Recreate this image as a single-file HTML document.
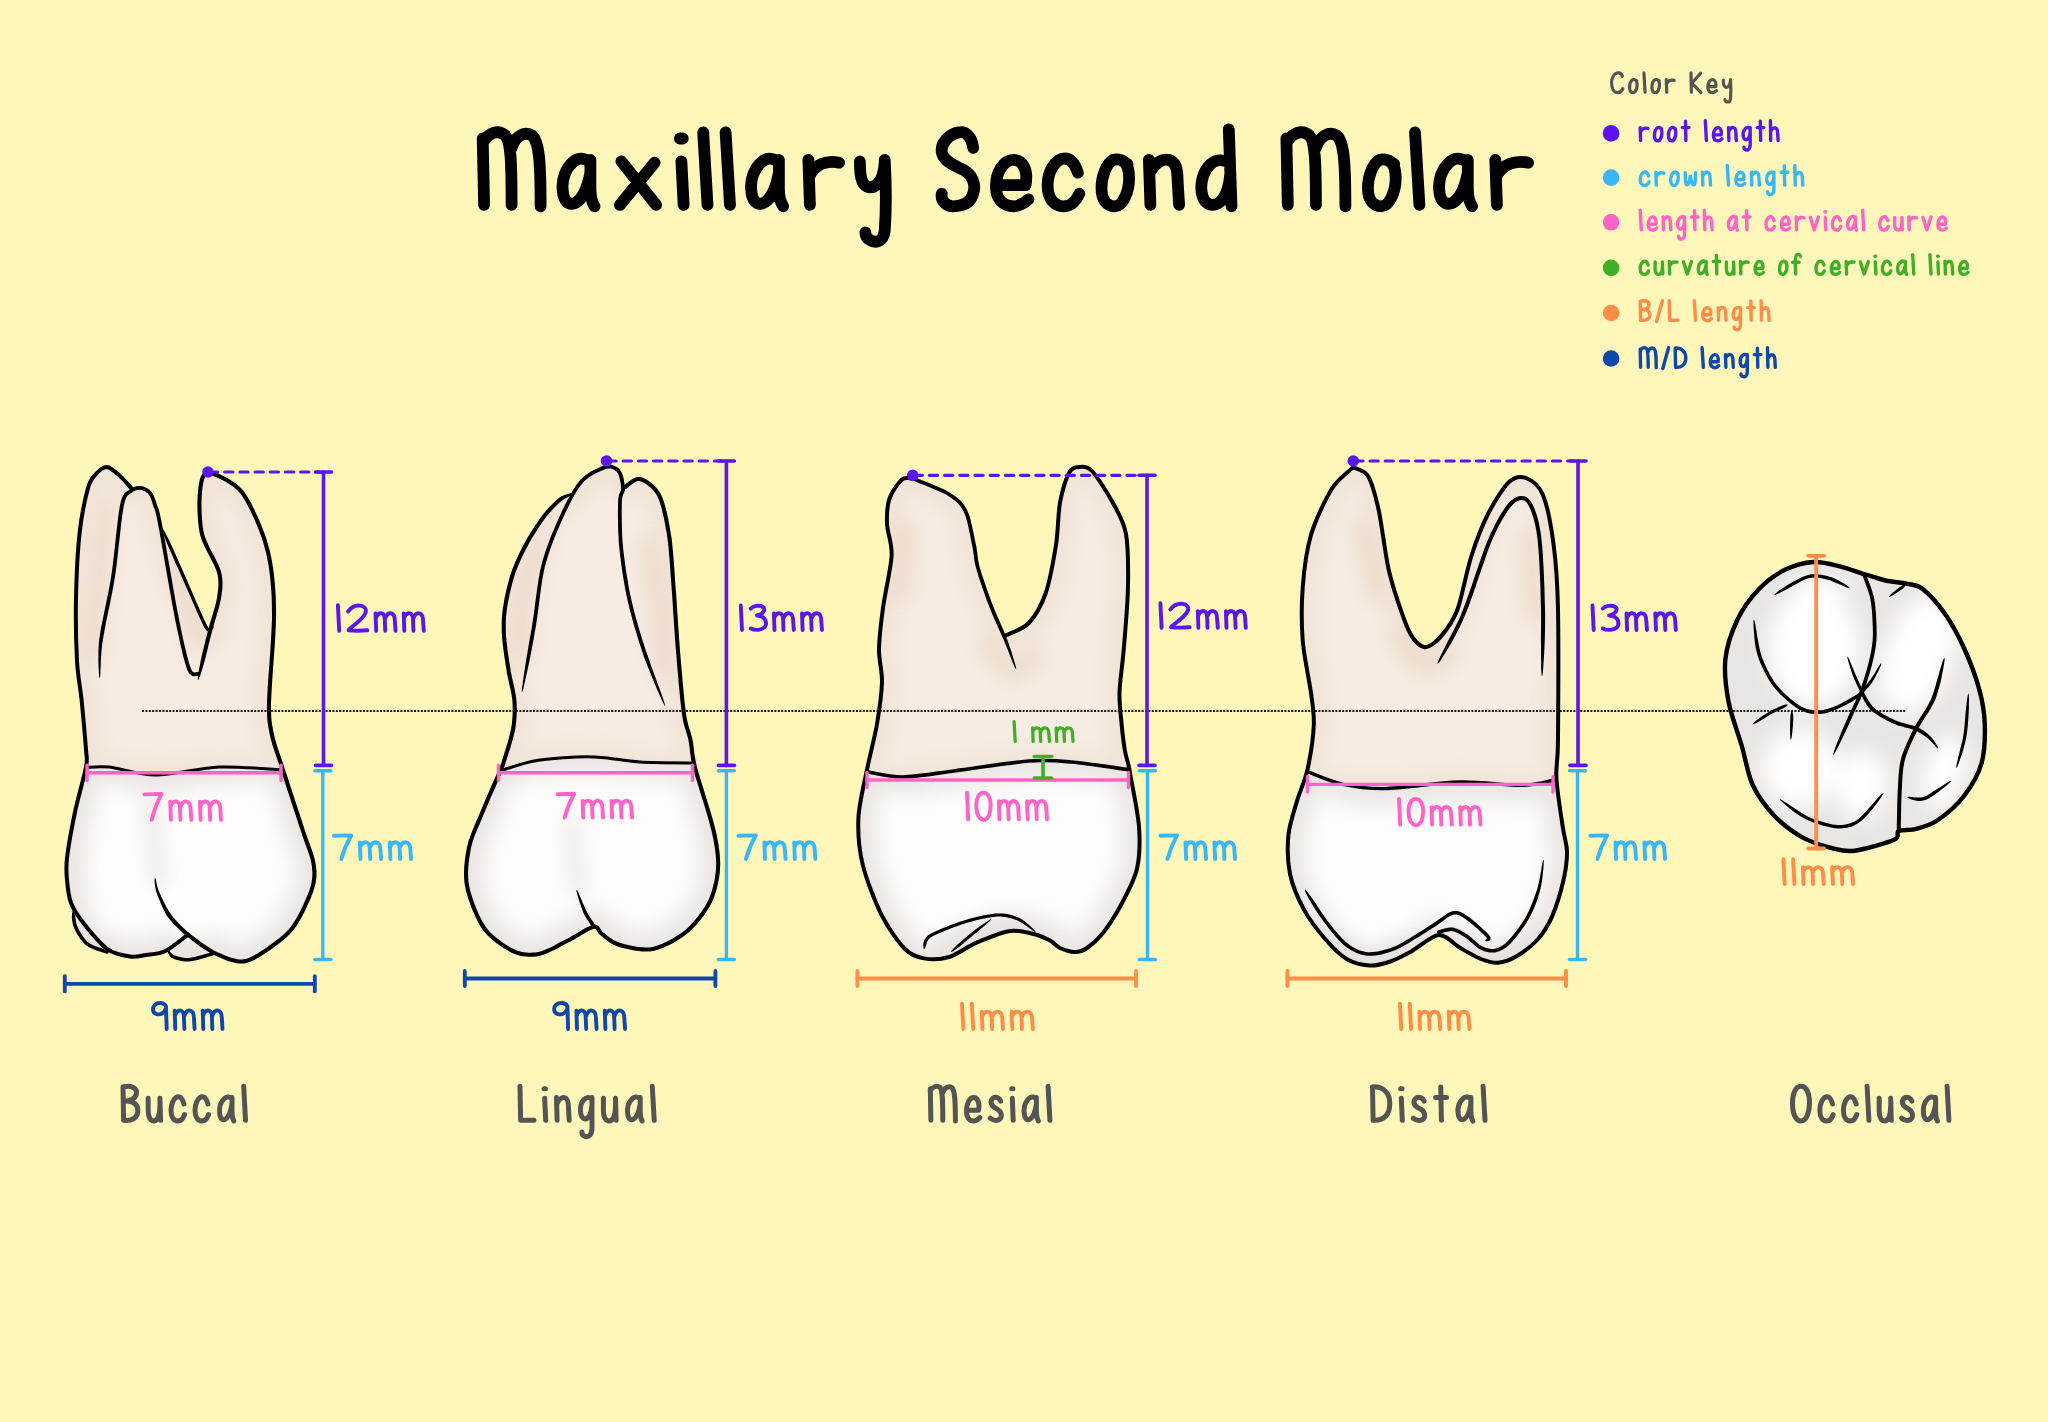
<!DOCTYPE html>
<html><head><meta charset="utf-8"><style>
html,body{margin:0;padding:0;background:#FFF7B9;}
body{width:2048px;height:1422px;overflow:hidden;position:relative;}
svg{position:absolute;left:0;top:0;}
</style></head><body>
<svg width="2048" height="1422" viewBox="0 0 2048 1422">
<defs>
<filter id="blur5" filterUnits="userSpaceOnUse" x="0" y="0" width="2048" height="1422"><feGaussianBlur stdDeviation="5"/></filter>
<filter id="blur6" filterUnits="userSpaceOnUse" x="0" y="0" width="2048" height="1422"><feGaussianBlur stdDeviation="6"/></filter>
<filter id="blur7" filterUnits="userSpaceOnUse" x="0" y="0" width="2048" height="1422"><feGaussianBlur stdDeviation="7"/></filter>
<filter id="blur10" filterUnits="userSpaceOnUse" x="0" y="0" width="2048" height="1422"><feGaussianBlur stdDeviation="10"/></filter>
<filter id="blur8" filterUnits="userSpaceOnUse" x="0" y="0" width="2048" height="1422"><feGaussianBlur stdDeviation="8"/></filter>
<clipPath id="rcB"><path d="M107 467C110.6 467.3 116.2 472.9 120 476C123.8 479.1 128.8 486.4 132 488C135.2 489.6 138.3 486.2 141 487C143.7 487.8 147.9 490.3 150 493C152.1 495.7 153.5 500.4 155 505C156.5 509.6 155.5 512.8 160 524C164.5 535.2 178.1 564.5 185 580C191.9 595.5 201.9 620 206 627C210.1 634 210.1 631.4 212 627C213.9 622.6 217.9 606.2 219 598C220.1 589.8 221.6 581.6 219 572C216.4 562.4 204.8 546 202 534C199.2 522 199.1 501.1 200 492C200.9 482.9 202 473.3 208 473C214 472.7 232.1 481.4 240 490C247.9 498.6 256.4 518.3 261 530C265.6 541.7 269.1 554.6 271 568C272.9 581.4 274.3 598.8 274 619C273.7 639.2 269.3 685.6 269 703C268.7 720.4 270.1 724.6 272 735C273.9 745.4 289.9 766.6 282 772C274.1 777.4 238 770 219 771C200 772 172 779 155.5 779C139 779 119.4 772.2 109 771C98.6 769.8 89.5 774.1 86 771C82.5 767.9 86.7 760.6 86 750C85.3 739.4 82.9 713.4 81.6 700C80.2 686.6 77.8 676.3 77 661C76.2 645.7 75.6 617 76 598C76.4 579 77.7 550.5 79.5 534C81.3 517.5 85.5 497 88 488C90.5 479 93.2 477.1 96 474C98.8 470.9 103.4 466.7 107 467Z"/></clipPath>
<clipPath id="ccB"><path d="M86 767.5C91.1 760.8 98.6 765.9 109 767C119.4 768.1 139 775 155.5 775C172 775 200.3 767.8 219 767C237.7 766.2 267.4 760 280 769.6C292.6 779.2 297.9 816.8 303 831C308.1 845.2 312.4 855.8 313.7 864.6C315 873.5 314.8 880.5 311.6 890C308.4 899.5 299.6 918.6 292.6 927.8C285.6 936.9 272.6 945.9 265 951C257.4 956.1 249.6 961.3 242 961.6C234.4 961.9 219.1 954.1 214.6 953C210.1 951.9 215.8 953 212 954C208.2 955 194.8 959.3 189 959.7C183.2 960.1 176.2 958.1 173 956.6C169.8 955.1 171.9 950.2 167.8 950C163.8 949.8 151.6 954 146 955C140.4 956 136.2 957.1 130.3 956.6C124.5 956.1 113.5 953.9 107 952C100.5 950.1 92 947.8 87.3 944C82.6 940.2 78 933.1 75.6 927C73.2 920.9 72.3 910 71 903C69.7 896 67.6 886.8 67 880C66.4 873.2 65.8 868.2 67 858C68.2 847.8 72.2 825.6 75 812C77.8 798.4 80.9 774.2 86 767.5Z"/></clipPath>
<clipPath id="rcL"><path d="M573.5 493C576.7 490.3 576.1 485.9 581 482C585.9 478.1 600.3 468.6 606 467C611.7 465.4 616.1 468.8 619 471.6C621.9 474.5 621.9 484.9 625 486C628.1 487.1 634.9 477.6 640 479C645.1 480.4 654.6 486.6 659 495C663.4 503.4 666.8 521.1 669 535C671.2 548.9 672.2 570.3 673.6 587.7C675 605.1 676.4 632.1 678 651C679.6 669.9 682.1 700.6 684 714C685.9 727.4 688.9 732 690.5 740C692.1 748 702.3 763.1 694.7 767C687.1 770.9 653.9 766.9 640 766C626.1 765.1 611.5 761.8 602 761C592.5 760.2 586.8 760.4 576.6 761C566.4 761.6 545.4 763 534 765C522.6 767 505.1 774.6 500.6 774C496.1 773.4 502.1 767.8 504 761C505.9 754.2 511.6 737.6 513.2 728.5C514.8 719.4 515.1 709.3 514.4 700.6C513.7 691.9 510.2 680.2 508.6 670.5C507 660.8 504.5 645.1 504 635.7C503.5 626.3 503.6 617.2 505 607.8C506.4 598.4 509.9 582.8 513.2 573C516.5 563.2 522.5 551.2 527 542.8C531.5 534.4 538.5 523.7 543.4 517.3C548.3 510.9 555.1 503.6 559.6 500C564.1 496.4 570.3 495.7 573.5 493Z"/></clipPath>
<clipPath id="ccL"><path d="M500.6 770.7C508.5 762.8 522.6 763.1 534 761C545.4 758.9 566.4 757.5 576.6 757C586.8 756.5 592.5 756.6 602 757.4C611.5 758.1 626.4 761.2 640 762C653.6 762.8 684.4 762.2 692.6 763C700.9 763.8 691.8 757.3 695 767.5C698.2 777.7 710.2 815.8 713.7 831C717.2 846.2 718.6 858.1 718 868.8C717.4 879.5 714.3 893 709.5 902.5C704.7 912 694.5 925 686 932C677.5 939 662.5 947.1 652.5 949C642.5 950.9 626.6 947 619 944.7C611.4 942.5 605.8 936.7 602 934C598.2 931.3 598.6 925.8 593.5 926.8C588.4 927.8 576.2 936.4 568 940.5C559.8 944.6 546.9 952.4 538.6 954C530.4 955.6 521.2 954.9 513 951C504.8 947.1 490.9 937.8 484 928C477.1 918.2 469.2 897.6 467 885.6C464.8 873.6 466.8 858.4 469 847.7C471.2 837 476.9 825.5 481.6 814C486.3 802.5 492.7 778.7 500.6 770.7Z"/></clipPath>
<clipPath id="rcM"><path d="M912.7 478.5C919.7 480.7 940.7 489.1 948.6 494C956.5 498.9 961.7 503.4 965.5 511C969.3 518.6 972.1 536.5 974 545C975.9 553.5 975.5 558.9 978 568C980.5 577.1 986.9 595.6 991 606C995.1 616.4 999.9 634.5 1005.6 637C1011.3 639.5 1022.8 629.5 1028.8 623C1034.8 616.5 1041.5 605.2 1045.6 593.5C1049.7 581.8 1053.8 558.6 1056 545C1058.2 531.4 1058 513.5 1060 502.7C1062 491.9 1066.2 478.4 1069 473C1071.8 467.6 1075.5 467.3 1079 467C1082.5 466.7 1086.9 465.6 1092 471C1097.1 476.4 1107.9 493.6 1113 503C1118.1 512.5 1123.8 521.4 1126 534C1128.2 546.6 1128.3 569.6 1128 587C1127.7 604.4 1125 634.2 1123.7 650C1122.4 665.8 1119.8 681.5 1119.5 692.6C1119.2 703.7 1120.8 715.4 1121.6 724C1122.4 732.6 1123.8 742.8 1124.8 750C1125.8 757.2 1136.5 769.6 1128.5 772C1120.5 774.4 1086.4 767 1071.5 766C1056.6 765 1046.4 763.7 1029 765C1011.6 766.3 974.4 772.3 955.5 774.7C936.6 777.1 916 781 902.7 781C889.4 781 870.9 783.5 867 775C863.1 766.5 874.8 738 877 724C879.2 710 881.7 693.1 882 682C882.3 670.9 878.9 661.1 879 650C879.1 638.9 881.1 622.2 883 608C884.9 593.8 891 568.1 891.6 555.5C892.2 542.9 887.3 532.5 887 524C886.7 515.5 887.2 505.2 889.5 498.5C891.8 491.8 898.5 482.5 902 479.5C905.5 476.5 905.7 476.3 912.7 478.5Z"/></clipPath>
<clipPath id="ccM"><path d="M867 771.7C872.7 771.9 889.4 777.1 902.7 777C916 776.9 936.6 773.1 955.5 770.7C974.4 768.3 1011.6 762.3 1029 761C1046.4 759.7 1056.6 760.7 1071.5 762C1086.4 763.3 1119.6 767.5 1128.5 769.6C1137.4 771.7 1129 767.5 1130.6 776C1132.2 784.5 1138 812.7 1139 826.6C1140 840.5 1139.6 857.2 1137 868.8C1134.4 880.4 1126.6 894.4 1121.5 904C1116.4 913.6 1108.2 926.4 1103 933C1097.8 939.6 1091.2 945.1 1087 948C1082.8 950.9 1079 952 1075 952C1071 952 1063.8 949.7 1060 948C1056.2 946.3 1054 942.6 1050 940.5C1046 938.4 1039.5 935.4 1033.5 934C1027.5 932.6 1018.5 929.7 1010 931C1001.5 932.3 985.8 938.7 976.6 942.6C967.5 946.5 956.9 954.6 949 957C941.1 959.4 930.6 959.6 924 958.4C917.4 957.2 911.4 955.5 905 949C898.6 942.5 887.9 927.7 881.6 915C875.3 902.3 866.2 879.1 862.7 864.6C859.2 850.1 858.1 831.3 858.4 818C858.7 804.7 863.5 782.9 864.8 776C866.1 769.1 861.3 771.6 867 771.7Z"/></clipPath>
<clipPath id="rcD"><path d="M1353 467.4C1358.4 465.5 1364.2 469.7 1368 476C1371.8 482.3 1375.4 495.4 1378.6 509.6C1381.8 523.9 1385.2 554.6 1389 571C1392.8 587.4 1400.4 609 1404 619C1407.6 629 1410 633.8 1413 638C1416 642.2 1420.8 646.2 1424 647C1427.2 647.8 1430.7 645.5 1434 643C1437.3 640.5 1442.4 635.2 1446 630C1449.6 624.8 1454.2 619.1 1458 608C1461.8 596.9 1466.9 570.1 1471.4 556C1475.9 541.9 1482.4 525.1 1488 514C1493.6 502.9 1503.3 487.4 1509 482C1514.7 476.6 1520.9 476.1 1526 478C1531.1 479.9 1538.8 484.9 1543 495C1547.2 505.1 1551.5 528.4 1553.7 545.5C1556 562.6 1557.4 579.8 1558 609C1558.6 638.2 1558.2 714 1558 740C1557.8 766 1561.7 774.6 1556.4 782C1551.1 789.4 1537.2 788.8 1522.6 789.4C1508 790 1479.9 785.5 1459.3 786C1438.7 786.5 1402.9 792.2 1385.5 792.6C1368.1 793 1354.7 790.9 1343 788.4C1331.3 785.9 1311.8 785.2 1307.4 775.7C1303 766.2 1313.3 737.4 1313.8 725C1314.3 712.6 1312.7 705.7 1311 693C1309.3 680.3 1303.9 656.2 1302.7 640.4C1301.5 624.6 1301.5 603.5 1302.7 587.7C1303.9 571.9 1306.6 549.9 1311 535C1315.4 520.1 1325.7 498.6 1332 488.5C1338.3 478.4 1347.6 469.3 1353 467.4Z"/></clipPath>
<clipPath id="ccD"><path d="M1307.4 771.7C1314.3 769.2 1331.3 781.9 1343 784.4C1354.7 786.9 1368.1 789 1385.5 788.6C1402.9 788.2 1438.7 782.5 1459.3 782C1479.9 781.5 1508.4 785.7 1522.6 785.4C1536.8 785.1 1548.9 781.1 1554 780C1559.1 778.9 1555.1 771 1556.4 778C1557.7 785 1561.1 815.5 1562.7 826.6C1564.3 837.7 1566.9 843.8 1567 852C1567.1 860.2 1565.5 871.3 1563.3 881C1561 890.7 1555.8 907.9 1552 916.6C1548.2 925.3 1543.1 933.3 1537.8 939.3C1532.5 945.3 1522.6 952.8 1516.6 956.3C1510.6 959.8 1503.3 962.3 1498 962.7C1492.7 963.1 1486.7 961.2 1481 959C1475.3 956.8 1466.3 951.4 1460 947.8C1453.7 944.2 1446.1 934.4 1438.7 935C1431.3 935.6 1417.9 948 1410.4 952C1402.9 956 1395.2 960 1389 962C1382.8 964 1375.7 966 1369.3 965.5C1362.9 965 1353.2 962.9 1346.6 959C1340 955.1 1331.8 946.7 1325.4 939.3C1319 931.9 1309.3 919.4 1304 909.6C1298.7 899.8 1292.3 885.2 1290 874C1287.7 862.8 1287.4 846 1288.4 835C1289.5 824 1294.2 810.5 1297 801C1299.8 791.5 1300.5 774.2 1307.4 771.7Z"/></clipPath>
<clipPath id="ccO"><path d="M1813.7 562C1821.9 561.5 1832.4 564.5 1839.9 566.3C1847.4 568.1 1856.9 571.9 1863.8 574C1870.7 576.1 1879.1 579 1885.6 580.5C1892.1 582 1901.8 582.5 1907.4 583.8C1913 585.1 1917.2 584.6 1922.7 589C1928.2 593.4 1938.2 604.1 1944.4 613C1950.6 621.9 1958.8 636.5 1964 648C1969.2 659.5 1976.2 678.1 1979.3 689.5C1982.4 700.9 1984.5 713.2 1984.8 724.3C1985.1 735.4 1984.6 752.7 1981.5 763.5C1978.4 774.3 1970.5 787.5 1964 796C1957.5 804.5 1945.2 815 1938 820C1930.8 825 1921.9 827.4 1916 829C1910.1 830.6 1902 829.4 1898.7 831C1895.4 832.6 1900.9 836.8 1894.3 839.8C1887.7 842.8 1864.2 849.4 1855 850.7C1845.8 852 1841.1 850.5 1833.3 848.5C1825.5 846.5 1811.6 842.5 1802.8 837.6C1794 832.7 1782 823.8 1774.5 815.9C1767 808 1757.6 795.5 1752.7 785C1747.8 774.5 1745.4 758.4 1741.8 746C1738.2 733.6 1731.2 715.5 1728.7 702.5C1726.2 689.5 1724.1 671.4 1725.4 659C1726.7 646.6 1732.4 630.2 1737.4 619.7C1742.4 609.2 1751.8 596.5 1759 589C1766.2 581.5 1777.2 573.6 1785.4 569.6C1793.6 565.6 1805.5 562.5 1813.7 562Z"/></clipPath>
</defs>
<rect width="2048" height="1422" fill="#FFF7B9"/>
<path d="M107 467C110.6 467.3 116.2 472.9 120 476C123.8 479.1 128.8 486.4 132 488C135.2 489.6 138.3 486.2 141 487C143.7 487.8 147.9 490.3 150 493C152.1 495.7 153.5 500.4 155 505C156.5 509.6 155.5 512.8 160 524C164.5 535.2 178.1 564.5 185 580C191.9 595.5 201.9 620 206 627C210.1 634 210.1 631.4 212 627C213.9 622.6 217.9 606.2 219 598C220.1 589.8 221.6 581.6 219 572C216.4 562.4 204.8 546 202 534C199.2 522 199.1 501.1 200 492C200.9 482.9 202 473.3 208 473C214 472.7 232.1 481.4 240 490C247.9 498.6 256.4 518.3 261 530C265.6 541.7 269.1 554.6 271 568C272.9 581.4 274.3 598.8 274 619C273.7 639.2 269.3 685.6 269 703C268.7 720.4 270.1 724.6 272 735C273.9 745.4 289.9 766.6 282 772C274.1 777.4 238 770 219 771C200 772 172 779 155.5 779C139 779 119.4 772.2 109 771C98.6 769.8 89.5 774.1 86 771C82.5 767.9 86.7 760.6 86 750C85.3 739.4 82.9 713.4 81.6 700C80.2 686.6 77.8 676.3 77 661C76.2 645.7 75.6 617 76 598C76.4 579 77.7 550.5 79.5 534C81.3 517.5 85.5 497 88 488C90.5 479 93.2 477.1 96 474C98.8 470.9 103.4 466.7 107 467Z" fill="#F6ECE2"/>
<g clip-path="url(#rcB)"><path d="M107 467C110.6 467.3 116.2 472.9 120 476C123.8 479.1 128.8 486.4 132 488C135.2 489.6 138.3 486.2 141 487C143.7 487.8 147.9 490.3 150 493C152.1 495.7 153.5 500.4 155 505C156.5 509.6 155.5 512.8 160 524C164.5 535.2 178.1 564.5 185 580C191.9 595.5 201.9 620 206 627C210.1 634 210.1 631.4 212 627C213.9 622.6 217.9 606.2 219 598C220.1 589.8 221.6 581.6 219 572C216.4 562.4 204.8 546 202 534C199.2 522 199.1 501.1 200 492C200.9 482.9 202 473.3 208 473C214 472.7 232.1 481.4 240 490C247.9 498.6 256.4 518.3 261 530C265.6 541.7 269.1 554.6 271 568C272.9 581.4 274.3 598.8 274 619C273.7 639.2 269.3 685.6 269 703C268.7 720.4 270.1 724.6 272 735C273.9 745.4 289.9 766.6 282 772C274.1 777.4 238 770 219 771C200 772 172 779 155.5 779C139 779 119.4 772.2 109 771C98.6 769.8 89.5 774.1 86 771C82.5 767.9 86.7 760.6 86 750C85.3 739.4 82.9 713.4 81.6 700C80.2 686.6 77.8 676.3 77 661C76.2 645.7 75.6 617 76 598C76.4 579 77.7 550.5 79.5 534C81.3 517.5 85.5 497 88 488C90.5 479 93.2 477.1 96 474C98.8 470.9 103.4 466.7 107 467Z" fill="none" stroke="#EBDACB" stroke-width="30" filter="url(#blur8)" opacity="0.45"/><path d="M108 500C106.8 512 102.4 556 100 580C97.6 604 93.2 648 92 660" fill="none" stroke="#EBDACB" stroke-width="22" filter="url(#blur8)" opacity="0.75"/><path d="M172 560C174.7 567.5 185.5 596.5 190 610C194.5 623.5 200.2 644 202 650" fill="none" stroke="#EBDACB" stroke-width="22" filter="url(#blur8)" opacity="0.75"/></g>
<path d="M86 767.5C91.1 760.8 98.6 765.9 109 767C119.4 768.1 139 775 155.5 775C172 775 200.3 767.8 219 767C237.7 766.2 267.4 760 280 769.6C292.6 779.2 297.9 816.8 303 831C308.1 845.2 312.4 855.8 313.7 864.6C315 873.5 314.8 880.5 311.6 890C308.4 899.5 299.6 918.6 292.6 927.8C285.6 936.9 272.6 945.9 265 951C257.4 956.1 249.6 961.3 242 961.6C234.4 961.9 219.1 954.1 214.6 953C210.1 951.9 215.8 953 212 954C208.2 955 194.8 959.3 189 959.7C183.2 960.1 176.2 958.1 173 956.6C169.8 955.1 171.9 950.2 167.8 950C163.8 949.8 151.6 954 146 955C140.4 956 136.2 957.1 130.3 956.6C124.5 956.1 113.5 953.9 107 952C100.5 950.1 92 947.8 87.3 944C82.6 940.2 78 933.1 75.6 927C73.2 920.9 72.3 910 71 903C69.7 896 67.6 886.8 67 880C66.4 873.2 65.8 868.2 67 858C68.2 847.8 72.2 825.6 75 812C77.8 798.4 80.9 774.2 86 767.5Z" fill="#FEFDFC"/>
<g clip-path="url(#ccB)"><path d="M86 767.5C91.1 760.8 98.6 765.9 109 767C119.4 768.1 139 775 155.5 775C172 775 200.3 767.8 219 767C237.7 766.2 267.4 760 280 769.6C292.6 779.2 297.9 816.8 303 831C308.1 845.2 312.4 855.8 313.7 864.6C315 873.5 314.8 880.5 311.6 890C308.4 899.5 299.6 918.6 292.6 927.8C285.6 936.9 272.6 945.9 265 951C257.4 956.1 249.6 961.3 242 961.6C234.4 961.9 219.1 954.1 214.6 953C210.1 951.9 215.8 953 212 954C208.2 955 194.8 959.3 189 959.7C183.2 960.1 176.2 958.1 173 956.6C169.8 955.1 171.9 950.2 167.8 950C163.8 949.8 151.6 954 146 955C140.4 956 136.2 957.1 130.3 956.6C124.5 956.1 113.5 953.9 107 952C100.5 950.1 92 947.8 87.3 944C82.6 940.2 78 933.1 75.6 927C73.2 920.9 72.3 910 71 903C69.7 896 67.6 886.8 67 880C66.4 873.2 65.8 868.2 67 858C68.2 847.8 72.2 825.6 75 812C77.8 798.4 80.9 774.2 86 767.5Z" fill="none" stroke="#E2DCD8" stroke-width="34" filter="url(#blur10)" opacity="0.72"/><path d="M150 800C150.8 807.5 153.5 837.2 155 850C156.5 862.8 159.2 879.8 160 885" fill="none" stroke="#E2DCD8" stroke-width="16" filter="url(#blur8)" opacity="0.55"/><path d="M172 956C174.7 956.9 184.3 961.9 190 962C195.7 962.1 207 957.8 210 957" fill="none" stroke="#E2DCD8" stroke-width="16" filter="url(#blur8)" opacity="0.55"/><path d="M80 925C82.2 928.5 90.5 943.5 95 948C99.5 952.5 107.8 954 110 955" fill="none" stroke="#E2DCD8" stroke-width="16" filter="url(#blur8)" opacity="0.55"/></g>
<path d="M132 489C130.2 487.1 123.8 479.3 120 476C116.2 472.7 110.6 467.3 107 467C103.4 466.7 98.8 470.9 96 474C93.2 477.1 90.5 479 88 488C85.5 497 81.3 517.5 79.5 534C77.7 550.5 76.4 579 76 598C75.6 617 76.2 645.7 77 661C77.8 676.3 80.2 686.6 81.6 700C82.9 713.4 85.3 740 86 750C86.7 760 87.7 757.7 86 767C84.3 776.3 77.8 798.4 75 812C72.2 825.6 68.2 847.8 67 858C65.8 868.2 66.4 873.2 67 880C67.6 886.8 68.5 896.5 71 903C73.5 909.5 78 916.1 83.4 923C88.8 929.9 100 943.7 107 948.8C114 953.8 124.5 955.7 130.3 956.6C136.2 957.5 140.7 955.8 146 955C151.3 954.2 159.2 954 165.5 951C171.8 948 184.6 937.1 188 934.7" fill="none" stroke="#000" stroke-width="4" stroke-linecap="round" stroke-linejoin="round"/>
<path d="M99.8 678L100.2 676L100.4 673.3L100.5 670.1L100.7 666.5L100.8 662.6L101 658.3L101.3 653.9L101.7 649.3L102.1 644.8L102.8 640.2L103.6 635.4L104.6 629.9L105.7 623.9L107 617.5L108.4 610.8L109.9 603.9L111.3 597L112.6 590.2L113.8 583.6L114.9 577.3L115.8 570.7L116.8 563.2L117.7 555.2L118.6 546.8L119.6 538.5L120.5 530.3L121.3 522.6L122.2 515.7L123.1 509.9L123.9 505.4L124.7 502L125.5 499.5L126.3 497.6L127.1 496.3L127.8 495.4L128.5 494.8L129.3 494.3L130.2 493.8L131.2 493.2L132.2 492.5L133 491.8L133.8 491.3L134.7 490.9L135.6 490.6L136.5 490.3L137.4 490.1L138.3 489.9L139.2 489.8L140.1 489.8L140.8 489.9L141.5 490L142.3 490.2L143.1 490.5L144 490.9L144.9 491.3L145.7 491.8L146.5 492.4L147.3 493L148 493.6L148.5 494.2L149 494.9L149.5 495.7L150 496.7L150.5 497.7L151 498.9L151.4 500.1L151.9 501.4L152.3 502.8L152.7 504.2L153.2 505.6L153.6 506.9L154 507.8L154.4 508.6L154.7 509.4L155 510.4L155.4 511.8L155.9 513.7L156.5 516.3L157.2 519.8L158.1 524.4L159.3 530.6L160.7 538.7L162.4 548.3L164.3 558.9L166.2 570.1L168.2 581.4L170.2 592.5L172 602.7L173.7 611.9L175.1 619.4L176.4 625.8L177.8 632.2L179.1 638.2L180.3 644L181.6 649.5L182.8 654.6L184 659.2L185.1 663.2L186.2 666.8L187.2 669.7L188.3 672L189.6 673.9L191 675.1L192.5 675.9L194 676.2L195.3 676.2L196.4 676L197.2 675.9L197.5 675.8L197.6 675.9L198.4 672.1L197.5 672L196.5 672.1L195.7 672.3L195 672.4L194.3 672.4L193.8 672.3L193.2 672L192.5 671.4L191.6 670.2L190.8 668.3L189.8 665.6L188.8 662.2L187.7 658.2L186.5 653.6L185.3 648.6L184 643.2L182.8 637.4L181.5 631.4L180.2 625.1L178.9 618.6L177.4 611.2L175.7 602.1L173.9 591.8L172 580.8L170 569.4L168 558.2L166.2 547.6L164.5 538L163 529.9L161.9 523.6L161 519.1L160.2 515.5L159.6 512.8L159.1 510.8L158.6 509.3L158.2 508.1L157.9 507.2L157.5 506.4L157.2 505.5L156.8 504.4L156.4 503L155.9 501.6L155.5 500.2L155 498.9L154.5 497.5L154 496.2L153.4 495L152.8 493.9L152.2 492.8L151.5 491.8L150.7 490.9L149.8 490.1L148.8 489.3L147.8 488.6L146.7 488L145.6 487.4L144.5 487L143.4 486.6L142.3 486.3L141.2 486.1L140.2 486L139.1 486.1L137.9 486.1L136.7 486.3L135.5 486.6L134.3 487L133.1 487.4L131.9 488L130.8 488.7L129.8 489.5L129.1 490.1L128.3 490.6L127.3 491.1L126.2 491.8L125.1 492.8L124 494.1L122.9 495.9L121.9 498.2L121 501L120.1 504.6L119.3 509.3L118.4 515.2L117.6 522.2L116.7 529.9L115.8 538L114.9 546.4L113.9 554.7L113 562.7L112.1 570.2L111.1 576.7L110.1 582.9L108.9 589.5L107.5 596.3L106.1 603.2L104.7 610L103.3 616.7L102 623.2L100.8 629.2L99.9 634.8L99.2 639.8L98.8 644.4L98.5 649.1L98.4 653.7L98.4 658.2L98.4 662.5L98.5 666.5L98.7 670.1L98.9 673.3L99.1 676L99.4 678Z" fill="#000"/><circle cx="198" cy="674" r="1.9" fill="#000"/>
<path d="M161.8 528.1L162.5 531.3L164 535.5L165.9 540.5L168.1 546.1L170.8 552L173.5 558.2L176.2 564.4L178.9 570.3L181.3 575.8L183.4 580.7L185.5 585.4L187.8 590.6L190.1 596L192.5 601.6L194.9 607.1L197.2 612.4L199.4 617.2L201.4 621.6L203.1 625.1L204.5 627.9L205.8 629.8L207 631L208.5 631.8L210.2 631.6L211.4 630.9L212.1 630L212.6 629.2L212.9 628.5L213 628.3L213 628.4L211 625.6L210.4 626.1L209.9 626.8L209.6 627.5L209.3 628.1L209 628.4L209 628.4L209.3 628.5L209.1 628.4L208.5 627.7L207.5 626.1L206.1 623.6L204.4 620.1L202.5 615.8L200.3 611L198 605.7L195.6 600.3L193.2 594.7L190.9 589.2L188.6 584.1L186.6 579.3L184.4 574.5L182 569L179.3 563L176.6 556.8L173.9 550.7L171.2 544.7L168.6 539.3L166.2 534.5L164.1 530.6L162.2 527.9Z" fill="#000"/><circle cx="212" cy="627" r="1.7" fill="#000"/>
<path d="M198.2 680.1L199.6 677.4L200.9 673.6L202.3 668.9L203.9 663.6L205.5 657.8L206.9 651.9L208.3 646.1L209.7 640.6L210.9 635.7L212 631.5L213 627.9L214 624.3L215 620.7L216.1 617.2L217.1 613.8L218.1 610.5L219 607.2L219.8 604.1L220.5 601.2L221 598.3L221.4 595.7L221.8 593.1L222.1 590.5L222.4 587.9L222.5 585.4L222.5 582.7L222.4 580L222.1 577.3L221.7 574.4L221 571.4L219.9 568.2L218.4 564.7L216.6 560.9L214.6 557L212.4 553L210.3 548.9L208.3 544.8L206.5 540.8L205 537.1L204 533.5L203.2 529.8L202.6 525.7L202.2 521.2L201.9 516.5L201.6 511.9L201.5 507.3L201.5 502.9L201.6 498.8L201.8 495.2L202 492.2L202.3 489.5L202.6 486.8L203 484.3L203.5 481.9L204 479.8L204.7 478L205.5 476.7L206.3 475.8L207.1 475.3L208.1 475L209.8 475.2L212.3 475.8L215.3 476.8L218.7 478.3L222.3 480L226 482L229.6 484.2L233 486.6L236 489L238.5 491.4L240.8 494.1L243.1 497.4L245.4 501.2L247.7 505.4L249.9 509.7L252 514.2L254 518.6L255.9 523L257.6 527L259.1 530.7L260.4 534.3L261.7 537.8L262.9 541.5L264 545.2L265 548.9L266 552.7L266.9 556.5L267.6 560.4L268.4 564.3L269 568.3L269.5 572.4L270.1 576.7L270.5 581.3L270.9 586L271.3 591L271.6 596.2L271.8 601.6L271.9 607.2L272 613L272 619L271.7 625.7L271.3 633.7L270.8 642.7L270.2 652.2L269.5 661.9L268.8 671.6L268.1 680.9L267.6 689.4L267.2 696.9L267 703L266.9 707.9L267 712.1L267.1 715.9L267.3 719.2L267.6 722.2L268 724.9L268.4 727.5L268.9 730.1L269.4 732.7L270 735.4L270.6 738.3L271.4 741.2L272.2 744L273.1 746.9L274 749.8L275.1 752.9L276.2 756.2L277.4 759.7L278.7 763.5L280.1 767.6L281.6 772.5L283.6 778.4L285.7 785L288.1 792.2L290.5 799.6L292.9 806.9L295.3 814.1L297.5 820.7L299.4 826.7L301.1 831.6L302.5 835.9L303.9 839.9L305.2 843.7L306.5 847.3L307.7 850.6L308.8 853.8L309.8 856.8L310.6 859.6L311.2 862.3L311.7 864.9L312 867.4L312.2 869.9L312.4 872.3L312.4 874.6L312.3 876.9L312 879.3L311.7 881.6L311.2 884.1L310.5 886.7L309.7 889.3L308.6 892.4L307.2 895.9L305.5 899.8L303.7 903.9L301.7 908.1L299.6 912.3L297.4 916.4L295.2 920.2L293 923.6L291 926.6L288.8 929.2L286.3 931.8L283.6 934.4L280.7 936.9L277.8 939.3L274.7 941.6L271.8 943.8L268.9 945.8L266.3 947.7L263.9 949.3L261.6 950.8L259.3 952.3L257 953.7L254.8 955.1L252.6 956.3L250.3 957.3L248.2 958.2L246 958.9L244 959.3L241.9 959.6L239.8 959.5L237.4 959.2L234.8 958.6L232 957.9L229.2 957L226.3 955.9L223.4 954.8L220.7 953.6L218 952.4L215.5 951.2L213.1 949.9L210.4 948.3L207.7 946.6L204.9 944.8L202 942.8L199.2 940.8L196.5 938.8L193.9 936.8L191.5 934.9L189.3 933.1L187.3 931.4L185.2 929.6L183.1 927.7L181.1 925.7L179.1 923.7L177.2 921.7L175.4 919.7L173.6 917.7L172.1 915.7L170.7 913.8L169.3 911.9L168 909.7L166.6 907.3L165.3 904.8L164 902.3L162.8 899.8L161.6 897.4L160.6 895.1L159.7 893L158.9 891.2L158.3 889.7L157.8 888.1L157.3 886.5L157 884.9L156.6 883.4L156.3 882L156.1 880.7L155.8 879.6L155.6 878.7L155.2 878L154.8 878L154.6 878.8L154.6 879.8L154.6 880.9L154.7 882.2L154.8 883.7L155 885.2L155.2 886.9L155.5 888.6L155.9 890.4L156.5 892.2L157.1 894L157.9 896.2L158.8 898.6L159.8 901.1L160.9 903.7L162.1 906.4L163.3 909L164.6 911.6L165.9 914L167.3 916.2L168.8 918.2L170.5 920.3L172.3 922.4L174.2 924.5L176.2 926.6L178.2 928.6L180.3 930.6L182.5 932.6L184.6 934.5L186.7 936.3L188.9 938.1L191.4 940L194 942L196.8 944.1L199.7 946.2L202.6 948.2L205.5 950.1L208.3 951.8L211.1 953.5L213.7 954.8L216.3 956.1L219 957.3L221.9 958.6L224.8 959.8L227.8 960.9L230.8 961.8L233.8 962.6L236.7 963.2L239.5 963.6L242.1 963.6L244.6 963.4L247.1 962.8L249.6 962.1L252 961.1L254.4 959.9L256.8 958.6L259.2 957.2L261.5 955.7L263.8 954.2L266.1 952.7L268.6 951.1L271.3 949.2L274.2 947.1L277.2 944.9L280.3 942.5L283.4 940L286.4 937.4L289.2 934.7L291.9 931.9L294.2 929L296.5 925.9L298.7 922.3L301 918.4L303.2 914.2L305.4 909.9L307.4 905.6L309.3 901.4L311 897.5L312.4 893.8L313.5 890.7L314.4 887.8L315.2 885L315.7 882.4L316.1 879.8L316.4 877.2L316.5 874.7L316.5 872.1L316.3 869.6L316.1 867L315.7 864.3L315.2 861.5L314.5 858.6L313.7 855.6L312.7 852.5L311.6 849.3L310.4 845.9L309.1 842.3L307.7 838.6L306.4 834.6L304.9 830.4L303.3 825.4L301.4 819.5L299.2 812.8L296.8 805.7L294.4 798.3L292 790.9L289.6 783.8L287.5 777.1L285.5 771.3L283.9 766.4L282.6 762.2L281.3 758.4L280.1 754.9L279 751.6L277.9 748.6L277 745.6L276.1 742.8L275.3 740.1L274.6 737.4L274 734.6L273.4 731.8L272.9 729.3L272.5 726.8L272 724.3L271.7 721.7L271.4 718.8L271.2 715.7L271.1 712L271 707.9L271 703L271.3 697.1L271.7 689.6L272.2 681.1L272.8 671.9L273.5 662.2L274.2 652.4L274.9 642.9L275.4 634L275.8 625.9L276 619L276.1 613L276 607.2L275.9 601.5L275.7 596L275.4 590.8L275 585.7L274.6 580.9L274.1 576.3L273.6 571.9L273 567.7L272.4 563.7L271.7 559.7L270.9 555.7L270 551.8L269 547.9L267.9 544L266.8 540.2L265.6 536.5L264.3 532.8L262.9 529.3L261.4 525.5L259.7 521.4L257.8 517L255.7 512.5L253.6 507.9L251.3 503.4L248.9 499.2L246.5 495.2L244 491.6L241.5 488.6L238.7 485.9L235.4 483.3L231.8 480.8L228.1 478.5L224.2 476.4L220.4 474.5L216.8 473L213.5 471.9L210.5 471.2L207.9 471L205.6 471.5L203.6 472.6L202.1 474.3L201 476.3L200.1 478.6L199.5 481L199 483.6L198.6 486.3L198.2 489L198 491.8L197.7 495L197.5 498.7L197.4 502.8L197.4 507.3L197.5 512L197.8 516.8L198.1 521.5L198.6 526.2L199.2 530.5L200 534.5L201.2 538.4L202.7 542.4L204.6 546.6L206.7 550.7L208.8 554.8L210.9 558.9L212.9 562.7L214.7 566.4L216.1 569.7L217 572.6L217.6 575.2L218.1 577.8L218.3 580.3L218.4 582.8L218.4 585.2L218.3 587.6L218 590.1L217.7 592.5L217.4 595.1L217 597.7L216.5 600.3L215.9 603.2L215.1 606.2L214.2 609.3L213.2 612.6L212.2 616L211.1 619.5L210 623.1L209 626.8L208 630.5L207 634.7L205.7 639.6L204.4 645.1L202.9 651L201.5 656.9L200.3 662.7L199.3 668.1L198.4 673L197.8 677L197.8 679.9Z" fill="#000"/>
<path d="M72.8 910.5L72.4 911.5L72.2 912.8L72 914.3L71.9 916.1L71.9 918L72.1 920L72.4 922L72.8 924L73.3 925.9L73.9 927.7L74.7 929.4L75.6 931.2L76.6 933.1L77.7 935L79 937L80.3 938.9L81.7 940.7L83.1 942.5L84.6 944L86.2 945.4L88 946.6L90.1 947.8L92.4 948.8L94.8 949.8L97.2 950.7L99.6 951.5L101.8 952.2L103.7 952.8L105.3 953.3L106.4 953.7L107.6 950.3L106.4 949.9L104.8 949.4L102.9 948.7L100.7 948L98.4 947.3L96.1 946.4L93.8 945.5L91.7 944.5L89.8 943.6L88.4 942.6L87.1 941.5L85.8 940.1L84.5 938.5L83.2 936.8L82 935L80.8 933.1L79.8 931.3L78.8 929.5L77.9 927.8L77.3 926.3L76.7 924.9L76.3 923.2L75.9 921.4L75.7 919.5L75.4 917.6L75 915.8L74.6 914.1L74.3 912.6L73.9 911.4L73.2 910.5Z" fill="#000"/><circle cx="107" cy="952" r="1.8" fill="#000"/>
<path d="M167.6 950.1L167.5 950.7L167.6 951.3L167.8 952L168.1 952.9L168.4 953.8L168.9 954.7L169.5 955.7L170.2 956.7L171.1 957.5L172.2 958.2L173.4 958.7L174.7 959.2L176.2 959.7L177.9 960.2L179.6 960.6L181.4 961L183.3 961.3L185.3 961.5L187.2 961.5L189.1 961.5L191.2 961.2L193.7 960.8L196.3 960.2L199.1 959.5L201.9 958.8L204.6 958L207.1 957.3L209.3 956.6L211.2 956.1L212.5 955.7L211.5 952.3L210.2 952.6L208.3 953.2L206.1 953.8L203.6 954.5L200.9 955.3L198.2 956L195.5 956.7L192.9 957.3L190.7 957.7L188.9 957.9L187.2 957.9L185.5 957.9L183.8 957.7L182.1 957.4L180.4 957.1L178.8 956.7L177.3 956.3L175.9 955.8L174.7 955.4L173.8 955L173.1 954.6L172.4 954.2L171.8 953.7L171.2 953.1L170.6 952.5L170 951.8L169.5 951.1L169 950.6L168.6 950.1L168 949.9Z" fill="#000"/><circle cx="212" cy="954" r="1.8" fill="#000"/>
<path d="M86 767.5C89.5 767.4 98.6 765.9 109 767C119.4 768.1 139 775 155.5 775C172 775 200.3 767.8 219 767C237.7 766.2 270.9 769.2 280 769.6" fill="none" stroke="#000" stroke-width="3" stroke-linecap="round" stroke-linejoin="round"/>
<path d="M573.5 493C576.7 490.3 576.1 485.9 581 482C585.9 478.1 600.3 468.6 606 467C611.7 465.4 616.1 468.8 619 471.6C621.9 474.5 621.9 484.9 625 486C628.1 487.1 634.9 477.6 640 479C645.1 480.4 654.6 486.6 659 495C663.4 503.4 666.8 521.1 669 535C671.2 548.9 672.2 570.3 673.6 587.7C675 605.1 676.4 632.1 678 651C679.6 669.9 682.1 700.6 684 714C685.9 727.4 688.9 732 690.5 740C692.1 748 702.3 763.1 694.7 767C687.1 770.9 653.9 766.9 640 766C626.1 765.1 611.5 761.8 602 761C592.5 760.2 586.8 760.4 576.6 761C566.4 761.6 545.4 763 534 765C522.6 767 505.1 774.6 500.6 774C496.1 773.4 502.1 767.8 504 761C505.9 754.2 511.6 737.6 513.2 728.5C514.8 719.4 515.1 709.3 514.4 700.6C513.7 691.9 510.2 680.2 508.6 670.5C507 660.8 504.5 645.1 504 635.7C503.5 626.3 503.6 617.2 505 607.8C506.4 598.4 509.9 582.8 513.2 573C516.5 563.2 522.5 551.2 527 542.8C531.5 534.4 538.5 523.7 543.4 517.3C548.3 510.9 555.1 503.6 559.6 500C564.1 496.4 570.3 495.7 573.5 493Z" fill="#F6ECE2"/>
<g clip-path="url(#rcL)"><path d="M573.5 493C576.7 490.3 576.1 485.9 581 482C585.9 478.1 600.3 468.6 606 467C611.7 465.4 616.1 468.8 619 471.6C621.9 474.5 621.9 484.9 625 486C628.1 487.1 634.9 477.6 640 479C645.1 480.4 654.6 486.6 659 495C663.4 503.4 666.8 521.1 669 535C671.2 548.9 672.2 570.3 673.6 587.7C675 605.1 676.4 632.1 678 651C679.6 669.9 682.1 700.6 684 714C685.9 727.4 688.9 732 690.5 740C692.1 748 702.3 763.1 694.7 767C687.1 770.9 653.9 766.9 640 766C626.1 765.1 611.5 761.8 602 761C592.5 760.2 586.8 760.4 576.6 761C566.4 761.6 545.4 763 534 765C522.6 767 505.1 774.6 500.6 774C496.1 773.4 502.1 767.8 504 761C505.9 754.2 511.6 737.6 513.2 728.5C514.8 719.4 515.1 709.3 514.4 700.6C513.7 691.9 510.2 680.2 508.6 670.5C507 660.8 504.5 645.1 504 635.7C503.5 626.3 503.6 617.2 505 607.8C506.4 598.4 509.9 582.8 513.2 573C516.5 563.2 522.5 551.2 527 542.8C531.5 534.4 538.5 523.7 543.4 517.3C548.3 510.9 555.1 503.6 559.6 500C564.1 496.4 570.3 495.7 573.5 493Z" fill="none" stroke="#EBDACB" stroke-width="30" filter="url(#blur8)" opacity="0.45"/><path d="M540 540C537.8 549 527.7 582 525 600C522.3 618 522.5 651 522 660" fill="none" stroke="#EBDACB" stroke-width="22" filter="url(#blur8)" opacity="0.75"/><path d="M648 540C649.8 552 657.5 599 660 620C662.5 641 664.2 671 665 680" fill="none" stroke="#EBDACB" stroke-width="22" filter="url(#blur8)" opacity="0.75"/></g>
<path d="M500.6 770.7C508.5 762.8 522.6 763.1 534 761C545.4 758.9 566.4 757.5 576.6 757C586.8 756.5 592.5 756.6 602 757.4C611.5 758.1 626.4 761.2 640 762C653.6 762.8 684.4 762.2 692.6 763C700.9 763.8 691.8 757.3 695 767.5C698.2 777.7 710.2 815.8 713.7 831C717.2 846.2 718.6 858.1 718 868.8C717.4 879.5 714.3 893 709.5 902.5C704.7 912 694.5 925 686 932C677.5 939 662.5 947.1 652.5 949C642.5 950.9 626.6 947 619 944.7C611.4 942.5 605.8 936.7 602 934C598.2 931.3 598.6 925.8 593.5 926.8C588.4 927.8 576.2 936.4 568 940.5C559.8 944.6 546.9 952.4 538.6 954C530.4 955.6 521.2 954.9 513 951C504.8 947.1 490.9 937.8 484 928C477.1 918.2 469.2 897.6 467 885.6C464.8 873.6 466.8 858.4 469 847.7C471.2 837 476.9 825.5 481.6 814C486.3 802.5 492.7 778.7 500.6 770.7Z" fill="#FEFDFC"/>
<g clip-path="url(#ccL)"><path d="M500.6 770.7C508.5 762.8 522.6 763.1 534 761C545.4 758.9 566.4 757.5 576.6 757C586.8 756.5 592.5 756.6 602 757.4C611.5 758.1 626.4 761.2 640 762C653.6 762.8 684.4 762.2 692.6 763C700.9 763.8 691.8 757.3 695 767.5C698.2 777.7 710.2 815.8 713.7 831C717.2 846.2 718.6 858.1 718 868.8C717.4 879.5 714.3 893 709.5 902.5C704.7 912 694.5 925 686 932C677.5 939 662.5 947.1 652.5 949C642.5 950.9 626.6 947 619 944.7C611.4 942.5 605.8 936.7 602 934C598.2 931.3 598.6 925.8 593.5 926.8C588.4 927.8 576.2 936.4 568 940.5C559.8 944.6 546.9 952.4 538.6 954C530.4 955.6 521.2 954.9 513 951C504.8 947.1 490.9 937.8 484 928C477.1 918.2 469.2 897.6 467 885.6C464.8 873.6 466.8 858.4 469 847.7C471.2 837 476.9 825.5 481.6 814C486.3 802.5 492.7 778.7 500.6 770.7Z" fill="none" stroke="#E2DCD8" stroke-width="34" filter="url(#blur10)" opacity="0.72"/><path d="M572 820C572.6 827.5 574.8 858.8 576 870C577.2 881.2 579.4 891.2 580 895" fill="none" stroke="#E2DCD8" stroke-width="16" filter="url(#blur8)" opacity="0.55"/></g>
<path d="M573.4 492.8L572.5 492.7L571.3 492.9L570 493.2L568.5 493.7L566.9 494.2L565.1 494.8L563.4 495.5L561.6 496.3L559.9 497.3L558.3 498.4L556.8 499.7L555.3 501.1L553.6 502.7L551.9 504.4L550.1 506.2L548.4 508.1L546.7 510.1L545 512.1L543.3 514.1L541.8 516.1L540.2 518.1L538.6 520.4L536.9 522.9L535.1 525.5L533.3 528.2L531.6 531L529.9 533.8L528.2 536.5L526.6 539.2L525.2 541.8L523.8 544.5L522.3 547.3L520.8 550.2L519.3 553.3L517.8 556.5L516.3 559.7L514.9 563L513.6 566.2L512.3 569.3L511.3 572.3L510.2 575.5L509.2 578.9L508.3 582.5L507.3 586.3L506.4 590.1L505.5 593.9L504.7 597.6L504.1 601.1L503.5 604.5L503 607.5L502.6 610.4L502.3 613.2L502 616L501.8 618.9L501.7 621.7L501.7 624.5L501.7 627.3L501.7 630.1L501.8 633L502 635.8L502.2 638.9L502.5 642.2L502.9 645.8L503.4 649.5L503.9 653.3L504.4 657.1L505 660.8L505.5 664.4L506.1 667.7L506.6 670.8L507.1 673.9L507.7 677L508.4 680.1L509.1 683.2L509.8 686.4L510.5 689.5L511.1 692.5L511.7 695.4L512.1 698.2L512.4 700.8L512.5 703.4L512.6 706L512.7 708.8L512.7 711.5L512.6 714.3L512.4 717.1L512.2 719.9L512 722.7L511.6 725.5L511.2 728.1L510.6 731L509.8 734.3L508.9 737.8L507.9 741.5L506.8 745.2L505.6 748.9L504.6 752.3L503.6 755.5L502.7 758.2L502 760.4L501.6 762L501.3 763L501.1 763.6L501 763.9L500.9 764.1L500.8 764.4L500.6 764.9L500.2 765.8L499.6 767.2L498.7 769.2L497.5 772L495.9 775.7L494 780L491.9 784.7L489.7 789.8L487.5 794.9L485.3 800L483.2 804.9L481.3 809.4L479.7 813.2L478.3 816.7L476.8 820.1L475.3 823.6L473.9 827L472.4 830.4L471.1 833.8L469.9 837.2L468.7 840.6L467.8 843.9L467 847.3L466.3 850.7L465.7 854.3L465.1 858.1L464.7 862L464.3 866L464.1 870.1L464 874.1L464.1 878.2L464.4 882.1L465 886L465.8 889.9L467 894.3L468.4 898.9L470 903.6L471.8 908.4L473.8 913.1L475.9 917.7L478 921.9L480.1 925.8L482.3 929.2L484.7 932.2L487.4 935.2L490.4 938.1L493.5 940.8L496.8 943.4L500.1 945.7L503.3 947.9L506.5 949.8L509.4 951.5L512.1 952.9L514.7 954L517.4 954.9L520.1 955.7L522.8 956.2L525.6 956.6L528.3 956.8L531 956.8L533.7 956.7L536.4 956.4L539 956L541.8 955.3L544.8 954.3L547.8 953L551 951.6L554.2 950L557.4 948.4L560.5 946.7L563.5 945.1L566.3 943.6L568.9 942.3L571.6 941L574.3 939.4L577.2 937.7L580.1 936L583 934.3L585.7 932.6L588.3 931.2L590.6 930.1L592.5 929.2L593.9 928.8L594.8 928.7L595.3 928.8L595.6 929.1L596 929.5L596.5 930.1L597.1 931.1L597.7 932.2L598.5 933.4L599.5 934.6L600.7 935.6L602 936.5L603.2 937.5L604.6 938.7L606.2 939.9L607.9 941.2L609.7 942.4L611.7 943.7L613.8 944.8L616 945.8L618.4 946.7L621 947.4L623.9 948.2L627.2 949L630.8 949.7L634.5 950.4L638.3 951L642.1 951.4L645.9 951.6L649.5 951.4L652.9 951L656.2 950.2L659.7 949.1L663.3 947.7L667 946.1L670.8 944.2L674.4 942.2L678 940.1L681.3 938L684.5 935.8L687.3 933.6L690 931.2L692.7 928.6L695.5 925.7L698.1 922.7L700.8 919.5L703.3 916.2L705.6 912.9L707.8 909.6L709.7 906.5L711.3 903.4L712.8 900.4L714.1 897.1L715.3 893.7L716.4 890.2L717.3 886.6L718.1 883L718.8 879.4L719.4 875.8L719.8 872.3L720 868.9L720.2 865.6L720.2 862.2L720 858.7L719.8 855.1L719.4 851.3L718.9 847.5L718.3 843.5L717.5 839.4L716.7 835L715.7 830.5L714.4 825.4L712.7 819.3L710.8 812.6L708.6 805.4L706.3 798.1L704.1 790.8L701.9 783.8L699.9 777.3L698.2 771.6L697 767L696.1 763.2L695.4 759.8L694.8 756.7L694.4 754L694.1 751.4L693.8 749L693.6 746.7L693.3 744.4L693 742L692.5 739.6L692 737.2L691.3 734.9L690.7 732.8L690 730.6L689.3 728.4L688.6 726.1L687.9 723.5L687.2 720.6L686.6 717.4L686 713.7L685.5 709.3L684.8 703.9L684.2 697.9L683.6 691.3L682.9 684.4L682.3 677.3L681.7 670.3L681.1 663.4L680.5 656.8L680 650.8L679.6 644.9L679.1 638.7L678.7 632.1L678.2 625.4L677.8 618.6L677.3 611.9L676.9 605.3L676.5 599L676.1 593L675.6 587.5L675.2 582.2L674.9 576.7L674.5 571.1L674.1 565.5L673.7 559.9L673.2 554.4L672.7 549L672.2 543.9L671.7 539.1L671 534.7L670.3 530.4L669.6 525.9L668.7 521.4L667.8 516.9L666.8 512.5L665.8 508.2L664.6 504.1L663.4 500.4L662.2 497L660.8 494.1L659.3 491.4L657.4 488.9L655.4 486.7L653.3 484.6L651 482.7L648.8 481L646.6 479.6L644.4 478.5L642.4 477.6L640.4 477L638.2 476.9L636.1 477.3L634 478.1L632.1 479.2L630.3 480.4L628.5 481.7L627 482.9L625.7 484L624.6 484.8L623.9 485.3L626.1 488.7L627 488.1L628.2 487.2L629.5 486.1L631 484.9L632.6 483.8L634.2 482.7L635.8 481.8L637.3 481.2L638.6 480.9L639.6 481L640.9 481.4L642.6 482.2L644.5 483.2L646.5 484.4L648.5 485.9L650.5 487.6L652.5 489.5L654.2 491.5L655.8 493.7L657.2 495.9L658.4 498.6L659.6 501.7L660.7 505.3L661.8 509.2L662.8 513.4L663.8 517.8L664.7 522.2L665.5 526.7L666.3 531.1L667 535.3L667.6 539.6L668.2 544.4L668.7 549.4L669.1 554.7L669.6 560.2L670 565.8L670.4 571.4L670.8 577L671.2 582.5L671.6 587.9L672 593.3L672.4 599.3L672.8 605.6L673.2 612.2L673.7 618.9L674.1 625.7L674.6 632.4L675 639L675.5 645.2L676 651.2L676.5 657.2L677 663.7L677.6 670.6L678.2 677.7L678.8 684.8L679.5 691.7L680.1 698.3L680.8 704.4L681.4 709.7L682 714.3L682.6 718.1L683.2 721.5L683.9 724.5L684.7 727.2L685.4 729.6L686.1 731.8L686.8 734L687.4 736.1L688 738.2L688.5 740.4L688.9 742.7L689.2 744.9L689.5 747.1L689.8 749.4L690 751.9L690.4 754.5L690.8 757.4L691.3 760.6L692.1 764.1L693 768L694.3 772.7L696 778.5L698 785L700.1 792L702.4 799.3L704.7 806.6L706.8 813.7L708.8 820.4L710.4 826.4L711.7 831.5L712.7 835.9L713.5 840.1L714.2 844.2L714.9 848.1L715.3 851.8L715.7 855.4L716 858.9L716.1 862.2L716.1 865.5L716 868.7L715.7 871.9L715.3 875.2L714.8 878.7L714.1 882.1L713.3 885.6L712.4 889.1L711.4 892.4L710.2 895.7L709 898.7L707.7 901.6L706.1 904.4L704.3 907.4L702.2 910.6L700 913.8L697.5 916.9L695 920L692.4 923L689.8 925.7L687.2 928.2L684.7 930.4L682 932.5L679.1 934.6L675.8 936.6L672.4 938.7L668.9 940.6L665.3 942.3L661.8 943.9L658.3 945.2L655.1 946.3L652.1 947L649.2 947.4L645.9 947.5L642.4 947.3L638.8 946.9L635.2 946.4L631.6 945.7L628.1 945L624.9 944.2L622.1 943.4L619.6 942.7L617.5 942L615.6 941.1L613.7 940.1L612 939L610.3 937.9L608.7 936.7L607.2 935.5L605.8 934.3L604.4 933.3L603.3 932.4L602.4 931.7L601.8 930.9L601.2 930L600.6 929L599.9 927.9L599.2 926.8L598.1 925.8L596.7 925L595 924.6L593.1 924.8L591.1 925.4L588.8 926.4L586.3 927.6L583.7 929.1L580.9 930.7L578 932.4L575.1 934.2L572.3 935.8L569.6 937.4L567.1 938.7L564.5 940L561.6 941.5L558.6 943.1L555.5 944.7L552.4 946.4L549.3 947.9L546.2 949.3L543.3 950.5L540.6 951.4L538.2 952L535.8 952.4L533.4 952.6L530.9 952.7L528.5 952.7L526 952.5L523.5 952.2L521.1 951.7L518.6 951L516.2 950.2L513.9 949.1L511.4 947.9L508.5 946.3L505.5 944.4L502.4 942.4L499.3 940.1L496.1 937.6L493.1 935L490.3 932.4L487.8 929.6L485.7 926.8L483.7 923.7L481.6 920L479.6 915.9L477.6 911.5L475.7 906.9L473.9 902.2L472.3 897.6L470.9 893.1L469.8 889L469 885.2L468.5 881.7L468.2 878L468.1 874.1L468.1 870.2L468.4 866.3L468.7 862.4L469.2 858.6L469.8 854.9L470.4 851.4L471 848.1L471.7 845L472.7 841.8L473.7 838.6L474.9 835.3L476.2 832L477.6 828.6L479.1 825.2L480.6 821.8L482 818.3L483.5 814.8L485.1 810.9L487 806.5L489 801.7L491.2 796.6L493.5 791.4L495.7 786.4L497.8 781.6L499.7 777.3L501.3 773.7L502.5 770.8L503.3 768.8L503.9 767.4L504.3 766.6L504.6 766L504.8 765.6L504.9 765.2L505 764.8L505.2 764.1L505.5 763.1L506 761.6L506.6 759.4L507.5 756.7L508.5 753.6L509.6 750.1L510.7 746.4L511.8 742.6L512.9 738.9L513.8 735.3L514.6 731.9L515.2 728.9L515.7 726L516 723.2L516.3 720.3L516.5 717.4L516.7 714.5L516.8 711.6L516.8 708.7L516.7 705.9L516.6 703.1L516.4 700.4L516.1 697.6L515.7 694.7L515.1 691.7L514.5 688.6L513.8 685.5L513.1 682.3L512.4 679.2L511.7 676.1L511.1 673.1L510.6 670.2L510.1 667.1L509.6 663.7L509 660.2L508.5 656.5L507.9 652.7L507.4 648.9L507 645.3L506.6 641.8L506.3 638.5L506 635.6L505.9 632.8L505.8 630L505.8 627.3L505.8 624.5L505.8 621.8L505.9 619.1L506.1 616.3L506.4 613.6L506.7 610.9L507 608.1L507.5 605.1L508.1 601.9L508.8 598.4L509.5 594.7L510.4 591L511.3 587.2L512.2 583.6L513.2 580L514.2 576.7L515.1 573.7L516.2 570.7L517.4 567.7L518.7 564.6L520 561.4L521.5 558.2L523 555.1L524.5 552.1L526 549.2L527.4 546.4L528.8 543.8L530.2 541.2L531.7 538.6L533.4 535.9L535.1 533.2L536.8 530.4L538.5 527.8L540.3 525.2L541.9 522.8L543.5 520.6L545 518.5L546.5 516.6L548.1 514.7L549.8 512.8L551.4 510.9L553.1 509L554.8 507.2L556.5 505.6L558 504.1L559.5 502.7L560.9 501.6L562.2 500.6L563.6 499.6L565 498.7L566.5 497.7L568.1 496.9L569.5 496.1L570.9 495.3L572 494.6L573 494L573.6 493.2Z" fill="#000"/><circle cx="625" cy="487" r="2" fill="#000"/>
<path d="M522.2 692L523.4 688.4L524.6 683.3L526 677L527.5 670L529.1 662.4L530.7 654.5L532.2 646.7L533.6 639.1L534.8 632.1L535.9 625.9L536.8 620.1L537.7 614L538.5 607.8L539.3 601.5L540.1 595.2L540.9 589.1L541.8 583.1L542.7 577.3L543.7 572L544.8 567L546.1 562.3L547.5 557.5L549.1 552.6L550.8 547.6L552.6 542.8L554.4 538L556.3 533.4L558.2 528.9L560 524.7L561.7 520.8L563.5 516.9L565.4 512.8L567.5 508.5L569.6 504.3L571.7 500.1L573.9 496.1L576.1 492.3L578.3 488.8L580.4 485.8L582.4 483.2L584.5 481.1L586.9 479L589.5 477.1L592.1 475.4L594.9 473.8L597.6 472.4L600.2 471.2L602.6 470.2L604.7 469.4L606.5 468.8L607.9 468.5L609.3 468.5L610.6 468.6L611.8 468.8L612.9 469.3L614 469.8L615 470.4L616 471.2L616.8 472L617.5 472.7L618.1 473.6L618.6 474.9L619.1 476.4L619.6 478.1L620 480L620.4 481.9L620.7 483.8L620.9 485.6L621 487.2L621.1 488.5L621.1 489.5L620.9 490.2L620.7 490.8L620.4 491.5L620 492.4L619.5 493.5L619 494.8L618.6 496.5L618.3 498.5L618.1 500.9L618 503.9L618 507.5L617.9 511.6L617.9 516.2L618 521L618.1 526.1L618.2 531.2L618.5 536.2L618.7 541.1L619.1 545.7L619.6 550.3L620.1 555.3L620.8 560.5L621.5 566L622.3 571.6L623.2 577.2L624.1 582.8L625.1 588.2L626.1 593.4L627.1 598.4L628.3 603.3L629.5 608.5L630.9 613.8L632.4 619.3L633.9 624.9L635.6 630.4L637.2 636L638.9 641.4L640.6 646.6L642.2 651.6L644 656.9L646.2 662.8L648.7 669.1L651.3 675.6L654 682L656.6 688.2L659.1 693.9L661.3 699L663.2 703.1L664.8 706.1L665.2 705.9L664.4 702.7L663 698.3L661.1 693.1L659 687.3L656.7 681L654.3 674.4L651.9 667.9L649.7 661.5L647.6 655.6L645.8 650.4L644.2 645.4L642.5 640.2L640.8 634.8L639.2 629.4L637.6 623.8L636 618.3L634.6 612.9L633.2 607.6L632 602.5L630.9 597.6L629.8 592.7L628.8 587.5L627.9 582.1L627 576.6L626.1 571L625.3 565.4L624.6 560L623.9 554.8L623.3 549.9L622.9 545.3L622.5 540.8L622.2 536L622 531L621.9 526L621.8 521L621.7 516.2L621.7 511.6L621.8 507.5L621.8 504L621.9 501.1L622.1 498.9L622.3 497.2L622.6 495.9L623 494.9L623.4 494L623.8 493.2L624.2 492.2L624.6 491.2L624.9 489.9L624.9 488.5L624.8 486.9L624.7 485.2L624.4 483.3L624.1 481.3L623.8 479.2L623.3 477.2L622.8 475.3L622.1 473.5L621.4 471.8L620.5 470.5L619.5 469.3L618.5 468.3L617.2 467.3L615.9 466.5L614.4 465.8L612.8 465.2L611.1 464.8L609.3 464.7L607.4 464.8L605.5 465.2L603.5 465.8L601.2 466.6L598.6 467.7L595.9 469L593 470.4L590.1 472.1L587.3 474L584.5 476.1L581.9 478.3L579.6 480.8L577.4 483.5L575.1 486.7L572.9 490.3L570.6 494.2L568.4 498.3L566.2 502.6L564 506.9L562 511.1L560.1 515.3L558.3 519.2L556.5 523.2L554.7 527.5L552.8 531.9L550.9 536.6L549 541.4L547.2 546.4L545.5 551.3L543.9 556.3L542.4 561.3L541.2 566.2L540 571.2L539 576.7L538.1 582.5L537.2 588.5L536.3 594.7L535.5 601L534.7 607.3L533.9 613.5L533 619.5L532.1 625.3L531.1 631.4L529.8 638.4L528.5 646L527.2 653.9L525.9 661.8L524.7 669.5L523.6 676.6L522.7 682.9L522 688.1L521.8 692Z" fill="#000"/>
<path d="M576.4 890.1L576.5 891.5L577 893.3L577.6 895.5L578.3 898L579.1 900.7L580 903.4L580.9 906.1L581.8 908.6L582.6 910.8L583.4 912.8L584.2 914.5L585.2 916.2L586.2 917.9L587.2 919.5L588.2 921.1L589.2 922.5L590.1 923.9L590.9 925L591.5 926L592 926.7L595 924.7L594.5 924L593.9 923L593.1 921.8L592.2 920.5L591.2 919.1L590.2 917.6L589.3 916L588.3 914.4L587.4 912.8L586.6 911.2L585.7 909.5L584.8 907.4L583.7 905L582.6 902.4L581.5 899.8L580.4 897.2L579.4 894.9L578.5 892.8L577.6 891.1L576.8 889.9Z" fill="#000"/><circle cx="593.5" cy="925.7" r="1.8" fill="#000"/>
<path d="M500.6 770.7C505.6 769.2 522.6 763.1 534 761C545.4 758.9 566.4 757.5 576.6 757C586.8 756.5 592.5 756.6 602 757.4C611.5 758.1 626.4 761.2 640 762C653.6 762.8 684.7 762.9 692.6 763" fill="none" stroke="#000" stroke-width="3" stroke-linecap="round" stroke-linejoin="round"/>
<path d="M912.7 478.5C919.7 480.7 940.7 489.1 948.6 494C956.5 498.9 961.7 503.4 965.5 511C969.3 518.6 972.1 536.5 974 545C975.9 553.5 975.5 558.9 978 568C980.5 577.1 986.9 595.6 991 606C995.1 616.4 999.9 634.5 1005.6 637C1011.3 639.5 1022.8 629.5 1028.8 623C1034.8 616.5 1041.5 605.2 1045.6 593.5C1049.7 581.8 1053.8 558.6 1056 545C1058.2 531.4 1058 513.5 1060 502.7C1062 491.9 1066.2 478.4 1069 473C1071.8 467.6 1075.5 467.3 1079 467C1082.5 466.7 1086.9 465.6 1092 471C1097.1 476.4 1107.9 493.6 1113 503C1118.1 512.5 1123.8 521.4 1126 534C1128.2 546.6 1128.3 569.6 1128 587C1127.7 604.4 1125 634.2 1123.7 650C1122.4 665.8 1119.8 681.5 1119.5 692.6C1119.2 703.7 1120.8 715.4 1121.6 724C1122.4 732.6 1123.8 742.8 1124.8 750C1125.8 757.2 1136.5 769.6 1128.5 772C1120.5 774.4 1086.4 767 1071.5 766C1056.6 765 1046.4 763.7 1029 765C1011.6 766.3 974.4 772.3 955.5 774.7C936.6 777.1 916 781 902.7 781C889.4 781 870.9 783.5 867 775C863.1 766.5 874.8 738 877 724C879.2 710 881.7 693.1 882 682C882.3 670.9 878.9 661.1 879 650C879.1 638.9 881.1 622.2 883 608C884.9 593.8 891 568.1 891.6 555.5C892.2 542.9 887.3 532.5 887 524C886.7 515.5 887.2 505.2 889.5 498.5C891.8 491.8 898.5 482.5 902 479.5C905.5 476.5 905.7 476.3 912.7 478.5Z" fill="#F6ECE2"/>
<g clip-path="url(#rcM)"><path d="M912.7 478.5C919.7 480.7 940.7 489.1 948.6 494C956.5 498.9 961.7 503.4 965.5 511C969.3 518.6 972.1 536.5 974 545C975.9 553.5 975.5 558.9 978 568C980.5 577.1 986.9 595.6 991 606C995.1 616.4 999.9 634.5 1005.6 637C1011.3 639.5 1022.8 629.5 1028.8 623C1034.8 616.5 1041.5 605.2 1045.6 593.5C1049.7 581.8 1053.8 558.6 1056 545C1058.2 531.4 1058 513.5 1060 502.7C1062 491.9 1066.2 478.4 1069 473C1071.8 467.6 1075.5 467.3 1079 467C1082.5 466.7 1086.9 465.6 1092 471C1097.1 476.4 1107.9 493.6 1113 503C1118.1 512.5 1123.8 521.4 1126 534C1128.2 546.6 1128.3 569.6 1128 587C1127.7 604.4 1125 634.2 1123.7 650C1122.4 665.8 1119.8 681.5 1119.5 692.6C1119.2 703.7 1120.8 715.4 1121.6 724C1122.4 732.6 1123.8 742.8 1124.8 750C1125.8 757.2 1136.5 769.6 1128.5 772C1120.5 774.4 1086.4 767 1071.5 766C1056.6 765 1046.4 763.7 1029 765C1011.6 766.3 974.4 772.3 955.5 774.7C936.6 777.1 916 781 902.7 781C889.4 781 870.9 783.5 867 775C863.1 766.5 874.8 738 877 724C879.2 710 881.7 693.1 882 682C882.3 670.9 878.9 661.1 879 650C879.1 638.9 881.1 622.2 883 608C884.9 593.8 891 568.1 891.6 555.5C892.2 542.9 887.3 532.5 887 524C886.7 515.5 887.2 505.2 889.5 498.5C891.8 491.8 898.5 482.5 902 479.5C905.5 476.5 905.7 476.3 912.7 478.5Z" fill="none" stroke="#EBDACB" stroke-width="30" filter="url(#blur8)" opacity="0.45"/><path d="M985 640C988.8 644.5 1001.8 668.5 1010 670C1018.2 671.5 1035.5 653 1040 650" fill="none" stroke="#EBDACB" stroke-width="22" filter="url(#blur8)" opacity="0.75"/><path d="M905 520C904.2 532 900.8 588 900 600" fill="none" stroke="#EBDACB" stroke-width="22" filter="url(#blur8)" opacity="0.75"/></g>
<path d="M867 771.7C872.7 771.9 889.4 777.1 902.7 777C916 776.9 936.6 773.1 955.5 770.7C974.4 768.3 1011.6 762.3 1029 761C1046.4 759.7 1056.6 760.7 1071.5 762C1086.4 763.3 1119.6 767.5 1128.5 769.6C1137.4 771.7 1129 767.5 1130.6 776C1132.2 784.5 1138 812.7 1139 826.6C1140 840.5 1139.6 857.2 1137 868.8C1134.4 880.4 1126.6 894.4 1121.5 904C1116.4 913.6 1108.2 926.4 1103 933C1097.8 939.6 1091.2 945.1 1087 948C1082.8 950.9 1079 952 1075 952C1071 952 1063.8 949.7 1060 948C1056.2 946.3 1054 942.6 1050 940.5C1046 938.4 1039.5 935.4 1033.5 934C1027.5 932.6 1018.5 929.7 1010 931C1001.5 932.3 985.8 938.7 976.6 942.6C967.5 946.5 956.9 954.6 949 957C941.1 959.4 930.6 959.6 924 958.4C917.4 957.2 911.4 955.5 905 949C898.6 942.5 887.9 927.7 881.6 915C875.3 902.3 866.2 879.1 862.7 864.6C859.2 850.1 858.1 831.3 858.4 818C858.7 804.7 863.5 782.9 864.8 776C866.1 769.1 861.3 771.6 867 771.7Z" fill="#FEFDFC"/>
<g clip-path="url(#ccM)"><path d="M867 771.7C872.7 771.9 889.4 777.1 902.7 777C916 776.9 936.6 773.1 955.5 770.7C974.4 768.3 1011.6 762.3 1029 761C1046.4 759.7 1056.6 760.7 1071.5 762C1086.4 763.3 1119.6 767.5 1128.5 769.6C1137.4 771.7 1129 767.5 1130.6 776C1132.2 784.5 1138 812.7 1139 826.6C1140 840.5 1139.6 857.2 1137 868.8C1134.4 880.4 1126.6 894.4 1121.5 904C1116.4 913.6 1108.2 926.4 1103 933C1097.8 939.6 1091.2 945.1 1087 948C1082.8 950.9 1079 952 1075 952C1071 952 1063.8 949.7 1060 948C1056.2 946.3 1054 942.6 1050 940.5C1046 938.4 1039.5 935.4 1033.5 934C1027.5 932.6 1018.5 929.7 1010 931C1001.5 932.3 985.8 938.7 976.6 942.6C967.5 946.5 956.9 954.6 949 957C941.1 959.4 930.6 959.6 924 958.4C917.4 957.2 911.4 955.5 905 949C898.6 942.5 887.9 927.7 881.6 915C875.3 902.3 866.2 879.1 862.7 864.6C859.2 850.1 858.1 831.3 858.4 818C858.7 804.7 863.5 782.9 864.8 776C866.1 769.1 861.3 771.6 867 771.7Z" fill="none" stroke="#E2DCD8" stroke-width="34" filter="url(#blur10)" opacity="0.72"/><path d="M935 945C943.2 942.5 974.2 928.8 990 928C1005.8 927.2 1032.5 938.2 1040 940" fill="none" stroke="#E2DCD8" stroke-width="16" filter="url(#blur8)" opacity="0.55"/></g>
<path d="M912.7 478.5C911.1 478.6 905.5 476.5 902 479.5C898.5 482.5 891.8 491.8 889.5 498.5C887.2 505.2 886.7 515.5 887 524C887.3 532.5 892.2 542.9 891.6 555.5C891 568.1 884.9 593.8 883 608C881.1 622.2 879.1 638.9 879 650C878.9 661.1 882.3 670.9 882 682C881.7 693.1 879.2 710.9 877 724C874.8 737.1 869.8 755.5 867 769.6C864.2 783.7 859 803.8 858.4 818C857.8 832.2 859.2 850.1 862.7 864.6C866.2 879.1 875.3 902.3 881.6 915C887.9 927.7 898.6 942.5 905 949C911.4 955.5 917.4 957.2 924 958.4C930.6 959.6 941.1 959.4 949 957C956.9 954.6 967.5 946.5 976.6 942.6C985.8 938.7 1001.5 932.3 1010 931C1018.5 929.7 1027.5 932.6 1033.5 934C1039.5 935.4 1046 938.4 1050 940.5C1054 942.6 1056.2 946.3 1060 948C1063.8 949.7 1071 952 1075 952C1079 952 1082.8 950.9 1087 948C1091.2 945.1 1097.8 939.6 1103 933C1108.2 926.4 1116.4 913.6 1121.5 904C1126.6 894.4 1134.4 880.4 1137 868.8C1139.6 857.2 1140 840.5 1139 826.6C1138 812.7 1132.2 785.2 1130.6 776C1129 766.8 1129.4 768.9 1128.5 765C1127.6 761.1 1125.8 756.1 1124.8 750C1123.8 743.9 1122.4 732.6 1121.6 724C1120.8 715.4 1119.2 703.7 1119.5 692.6C1119.8 681.5 1122.4 665.8 1123.7 650C1125 634.2 1127.7 604.4 1128 587C1128.3 569.6 1128.2 546.6 1126 534C1123.8 521.4 1118.1 512.5 1113 503C1107.9 493.6 1097.1 476.4 1092 471C1086.9 465.6 1082.5 466.7 1079 467C1075.5 467.3 1071.8 467.6 1069 473C1066.2 478.4 1062 491.9 1060 502.7C1058 513.5 1058.2 531.4 1056 545C1053.8 558.6 1049.7 581.8 1045.6 593.5C1041.5 605.2 1034.8 616.7 1028.8 623C1022.8 629.3 1009.1 633.7 1005.6 635.6" fill="none" stroke="#000" stroke-width="4" stroke-linecap="round" stroke-linejoin="round"/>
<path d="M912 480.3L914.1 481.1L917 482.3L920.6 483.7L924.7 485.3L929 487.1L933.4 488.9L937.6 490.7L941.5 492.5L944.9 494.1L947.6 495.6L949.9 497L951.9 498.5L953.9 499.9L955.6 501.3L957.3 502.8L958.8 504.4L960.2 506L961.5 507.8L962.7 509.8L963.8 511.8L964.8 514.3L965.9 517.2L966.8 520.6L967.8 524.3L968.6 528.1L969.4 531.9L970.2 535.7L970.9 539.3L971.5 542.6L972.1 545.4L972.6 547.8L973 550.1L973.3 552.3L973.6 554.4L973.9 556.5L974.1 558.7L974.5 560.9L974.9 563.3L975.5 565.8L976.2 568.5L977.1 571.5L978.1 575L979.3 578.8L980.7 582.8L982.1 587L983.6 591.2L985.1 595.4L986.5 599.4L987.9 603.2L989.2 606.7L990.6 610L992 613.5L993.5 617.1L995.1 620.7L996.7 624.3L998.3 627.8L999.8 631.3L1001.3 634.6L1002.8 637.7L1004 640.6L1005.2 643.6L1006.5 646.8L1007.9 650.1L1009.2 653.5L1010.5 656.8L1011.7 660L1012.9 662.9L1014 665.5L1014.9 667.6L1015.8 669.1L1016.2 668.9L1016 667.2L1015.4 665L1014.6 662.3L1013.7 659.3L1012.7 656L1011.7 652.6L1010.5 649.1L1009.4 645.7L1008.3 642.4L1007.2 639.4L1006 636.4L1004.7 633.1L1003.3 629.8L1001.8 626.3L1000.2 622.7L998.6 619.1L997 615.6L995.5 612L994.1 608.6L992.8 605.3L991.5 601.9L990.1 598.1L988.6 594.1L987.2 590L985.7 585.8L984.3 581.6L983 577.6L981.7 573.9L980.7 570.4L979.8 567.5L979.2 564.9L978.6 562.5L978.2 560.3L977.9 558.1L977.6 556L977.4 553.9L977.1 551.8L976.8 549.5L976.4 547.1L975.9 544.6L975.3 541.8L974.6 538.5L973.9 535L973.2 531.2L972.3 527.3L971.4 523.4L970.5 519.6L969.5 516.1L968.4 512.9L967.2 510.2L966 507.8L964.6 505.7L963.2 503.7L961.6 501.8L959.9 500.1L958.1 498.4L956.2 496.9L954.1 495.4L951.9 493.9L949.6 492.4L946.7 490.8L943.2 489L939.1 487.2L934.8 485.4L930.4 483.5L926.1 481.8L922 480.2L918.4 478.8L915.5 477.6L913.4 476.7Z" fill="#000"/><circle cx="912.7" cy="478.5" r="1.9" fill="#000"/>
<path d="M867 771.7C872.4 772.5 889.4 777.1 902.7 777C916 776.9 936.6 773.1 955.5 770.7C974.4 768.3 1011.6 762.3 1029 761C1046.4 759.7 1056.6 760.7 1071.5 762C1086.4 763.3 1120 768.5 1128.5 769.6" fill="none" stroke="#000" stroke-width="3.6" stroke-linecap="round" stroke-linejoin="round"/>
<path d="M924.2 949.1L924.9 948.4L925.3 947.4L925.7 946.3L926.1 945L926.5 943.7L926.9 942.3L927.5 941L928.3 939.7L929.4 938.5L930.9 937.3L933 936.1L935.9 934.7L939.3 933.1L943.1 931.5L947.1 929.9L951.3 928.3L955.5 926.7L959.5 925.3L963.2 924.1L966.5 923L969.6 922.1L972.9 921.2L976.2 920.3L979.6 919.5L983 918.8L986.3 918.1L989.5 917.5L992.5 917.1L995.3 916.8L997.8 916.6L1000 916.6L1002.3 916.7L1004.5 916.9L1006.6 917.3L1008.7 917.7L1010.8 918.2L1012.7 918.8L1014.6 919.4L1016.4 920.1L1018.1 920.8L1019.8 921.7L1021.7 922.7L1023.6 924L1025.7 925.4L1027.7 926.8L1029.6 928.3L1031.4 929.6L1033 930.8L1034.3 931.7L1035.5 932.1L1035.7 931.9L1035 930.8L1033.9 929.7L1032.5 928.3L1030.9 926.7L1029.1 925L1027.2 923.4L1025.3 921.8L1023.3 920.3L1021.4 919L1019.5 918L1017.6 917.2L1015.7 916.4L1013.7 915.7L1011.6 915.1L1009.4 914.6L1007.2 914.1L1004.9 913.7L1002.5 913.5L1000.1 913.4L997.6 913.4L995 913.6L992.1 913.9L989 914.4L985.7 914.9L982.4 915.6L978.9 916.4L975.4 917.2L972 918.1L968.7 919L965.5 920L962.2 921L958.4 922.3L954.4 923.7L950.2 925.3L946 926.9L941.9 928.5L938 930.2L934.5 931.8L931.5 933.3L929.1 934.7L927.2 936.1L925.8 937.8L924.7 939.5L923.9 941.2L923.4 942.9L923.3 944.5L923.3 946L923.4 947.2L923.5 948.1L923.8 948.9Z" fill="#000"/>
<path d="M951.1 952.1L952.6 951.6L954.3 950.5L956.3 949L958.5 947.4L960.9 945.5L963.2 943.5L965.6 941.5L967.9 939.5L970 937.7L971.9 936.2L973.9 934.6L976 932.9L978.3 931L980.6 929.1L982.8 927.2L985 925.3L987 923.6L988.8 922L990.2 920.7L991.1 919.5L990.9 919.3L989.5 919.9L987.9 920.9L986 922.2L983.8 923.7L981.4 925.3L979 927.1L976.5 928.8L974.2 930.5L972 932.3L970.1 933.8L968.1 935.4L965.9 937.3L963.6 939.2L961.3 941.2L958.9 943.2L956.7 945.3L954.7 947.2L953 949L951.7 950.5L950.9 951.9Z" fill="#000"/>
<path d="M1353 467.4C1358.4 465.5 1364.2 469.7 1368 476C1371.8 482.3 1375.4 495.4 1378.6 509.6C1381.8 523.9 1385.2 554.6 1389 571C1392.8 587.4 1400.4 609 1404 619C1407.6 629 1410 633.8 1413 638C1416 642.2 1420.8 646.2 1424 647C1427.2 647.8 1430.7 645.5 1434 643C1437.3 640.5 1442.4 635.2 1446 630C1449.6 624.8 1454.2 619.1 1458 608C1461.8 596.9 1466.9 570.1 1471.4 556C1475.9 541.9 1482.4 525.1 1488 514C1493.6 502.9 1503.3 487.4 1509 482C1514.7 476.6 1520.9 476.1 1526 478C1531.1 479.9 1538.8 484.9 1543 495C1547.2 505.1 1551.5 528.4 1553.7 545.5C1556 562.6 1557.4 579.8 1558 609C1558.6 638.2 1558.2 714 1558 740C1557.8 766 1561.7 774.6 1556.4 782C1551.1 789.4 1537.2 788.8 1522.6 789.4C1508 790 1479.9 785.5 1459.3 786C1438.7 786.5 1402.9 792.2 1385.5 792.6C1368.1 793 1354.7 790.9 1343 788.4C1331.3 785.9 1311.8 785.2 1307.4 775.7C1303 766.2 1313.3 737.4 1313.8 725C1314.3 712.6 1312.7 705.7 1311 693C1309.3 680.3 1303.9 656.2 1302.7 640.4C1301.5 624.6 1301.5 603.5 1302.7 587.7C1303.9 571.9 1306.6 549.9 1311 535C1315.4 520.1 1325.7 498.6 1332 488.5C1338.3 478.4 1347.6 469.3 1353 467.4Z" fill="#F6ECE2"/>
<g clip-path="url(#rcD)"><path d="M1353 467.4C1358.4 465.5 1364.2 469.7 1368 476C1371.8 482.3 1375.4 495.4 1378.6 509.6C1381.8 523.9 1385.2 554.6 1389 571C1392.8 587.4 1400.4 609 1404 619C1407.6 629 1410 633.8 1413 638C1416 642.2 1420.8 646.2 1424 647C1427.2 647.8 1430.7 645.5 1434 643C1437.3 640.5 1442.4 635.2 1446 630C1449.6 624.8 1454.2 619.1 1458 608C1461.8 596.9 1466.9 570.1 1471.4 556C1475.9 541.9 1482.4 525.1 1488 514C1493.6 502.9 1503.3 487.4 1509 482C1514.7 476.6 1520.9 476.1 1526 478C1531.1 479.9 1538.8 484.9 1543 495C1547.2 505.1 1551.5 528.4 1553.7 545.5C1556 562.6 1557.4 579.8 1558 609C1558.6 638.2 1558.2 714 1558 740C1557.8 766 1561.7 774.6 1556.4 782C1551.1 789.4 1537.2 788.8 1522.6 789.4C1508 790 1479.9 785.5 1459.3 786C1438.7 786.5 1402.9 792.2 1385.5 792.6C1368.1 793 1354.7 790.9 1343 788.4C1331.3 785.9 1311.8 785.2 1307.4 775.7C1303 766.2 1313.3 737.4 1313.8 725C1314.3 712.6 1312.7 705.7 1311 693C1309.3 680.3 1303.9 656.2 1302.7 640.4C1301.5 624.6 1301.5 603.5 1302.7 587.7C1303.9 571.9 1306.6 549.9 1311 535C1315.4 520.1 1325.7 498.6 1332 488.5C1338.3 478.4 1347.6 469.3 1353 467.4Z" fill="none" stroke="#EBDACB" stroke-width="30" filter="url(#blur8)" opacity="0.45"/><path d="M1395 630C1399.5 635.2 1416 662 1425 665C1434 668 1450.5 652.2 1455 650" fill="none" stroke="#EBDACB" stroke-width="22" filter="url(#blur8)" opacity="0.75"/><path d="M1528 530C1529.2 543.5 1534.8 606.5 1536 620" fill="none" stroke="#EBDACB" stroke-width="22" filter="url(#blur8)" opacity="0.75"/><path d="M1360 520C1363 532 1377 588 1380 600" fill="none" stroke="#EBDACB" stroke-width="22" filter="url(#blur8)" opacity="0.75"/></g>
<path d="M1307.4 771.7C1314.3 769.2 1331.3 781.9 1343 784.4C1354.7 786.9 1368.1 789 1385.5 788.6C1402.9 788.2 1438.7 782.5 1459.3 782C1479.9 781.5 1508.4 785.7 1522.6 785.4C1536.8 785.1 1548.9 781.1 1554 780C1559.1 778.9 1555.1 771 1556.4 778C1557.7 785 1561.1 815.5 1562.7 826.6C1564.3 837.7 1566.9 843.8 1567 852C1567.1 860.2 1565.5 871.3 1563.3 881C1561 890.7 1555.8 907.9 1552 916.6C1548.2 925.3 1543.1 933.3 1537.8 939.3C1532.5 945.3 1522.6 952.8 1516.6 956.3C1510.6 959.8 1503.3 962.3 1498 962.7C1492.7 963.1 1486.7 961.2 1481 959C1475.3 956.8 1466.3 951.4 1460 947.8C1453.7 944.2 1446.1 934.4 1438.7 935C1431.3 935.6 1417.9 948 1410.4 952C1402.9 956 1395.2 960 1389 962C1382.8 964 1375.7 966 1369.3 965.5C1362.9 965 1353.2 962.9 1346.6 959C1340 955.1 1331.8 946.7 1325.4 939.3C1319 931.9 1309.3 919.4 1304 909.6C1298.7 899.8 1292.3 885.2 1290 874C1287.7 862.8 1287.4 846 1288.4 835C1289.5 824 1294.2 810.5 1297 801C1299.8 791.5 1300.5 774.2 1307.4 771.7Z" fill="#FEFDFC"/>
<g clip-path="url(#ccD)"><path d="M1307.4 771.7C1314.3 769.2 1331.3 781.9 1343 784.4C1354.7 786.9 1368.1 789 1385.5 788.6C1402.9 788.2 1438.7 782.5 1459.3 782C1479.9 781.5 1508.4 785.7 1522.6 785.4C1536.8 785.1 1548.9 781.1 1554 780C1559.1 778.9 1555.1 771 1556.4 778C1557.7 785 1561.1 815.5 1562.7 826.6C1564.3 837.7 1566.9 843.8 1567 852C1567.1 860.2 1565.5 871.3 1563.3 881C1561 890.7 1555.8 907.9 1552 916.6C1548.2 925.3 1543.1 933.3 1537.8 939.3C1532.5 945.3 1522.6 952.8 1516.6 956.3C1510.6 959.8 1503.3 962.3 1498 962.7C1492.7 963.1 1486.7 961.2 1481 959C1475.3 956.8 1466.3 951.4 1460 947.8C1453.7 944.2 1446.1 934.4 1438.7 935C1431.3 935.6 1417.9 948 1410.4 952C1402.9 956 1395.2 960 1389 962C1382.8 964 1375.7 966 1369.3 965.5C1362.9 965 1353.2 962.9 1346.6 959C1340 955.1 1331.8 946.7 1325.4 939.3C1319 931.9 1309.3 919.4 1304 909.6C1298.7 899.8 1292.3 885.2 1290 874C1287.7 862.8 1287.4 846 1288.4 835C1289.5 824 1294.2 810.5 1297 801C1299.8 791.5 1300.5 774.2 1307.4 771.7Z" fill="none" stroke="#E2DCD8" stroke-width="34" filter="url(#blur10)" opacity="0.72"/><path d="M1325 935C1331.5 938.8 1353.8 958.8 1368 960C1382.2 961.2 1412.2 945.5 1420 943" fill="none" stroke="#E2DCD8" stroke-width="16" filter="url(#blur8)" opacity="0.55"/><path d="M1462 945C1467.7 947 1489 959.5 1500 958C1511 956.5 1529.8 938.5 1535 935" fill="none" stroke="#E2DCD8" stroke-width="16" filter="url(#blur8)" opacity="0.55"/></g>
<path d="M1353 467.4C1349.8 470.6 1338.3 478.4 1332 488.5C1325.7 498.6 1315.4 520.1 1311 535C1306.6 549.9 1303.9 571.9 1302.7 587.7C1301.5 603.5 1301.5 624.6 1302.7 640.4C1303.9 656.2 1309.3 680.3 1311 693C1312.7 705.7 1314.3 713.5 1313.8 725C1313.3 736.5 1309.9 758.6 1307.4 770C1304.9 781.4 1299.8 791.2 1297 801C1294.2 810.8 1289.5 824 1288.4 835C1287.4 846 1287.7 862.8 1290 874C1292.3 885.2 1298.7 899.8 1304 909.6C1309.3 919.4 1319 931.9 1325.4 939.3C1331.8 946.7 1340 955.1 1346.6 959C1353.2 962.9 1362.9 965 1369.3 965.5C1375.7 966 1382.8 964 1389 962C1395.2 960 1402.9 956 1410.4 952C1417.9 948 1431.3 935.6 1438.7 935C1446.1 934.4 1453.7 944.2 1460 947.8C1466.3 951.4 1475.3 956.8 1481 959C1486.7 961.2 1492.7 963.1 1498 962.7C1503.3 962.3 1510.6 959.8 1516.6 956.3C1522.6 952.8 1532.5 945.3 1537.8 939.3C1543.1 933.3 1548.2 925.3 1552 916.6C1555.8 907.9 1561 890.7 1563.3 881C1565.5 871.3 1567.1 860.2 1567 852C1566.9 843.8 1564.3 837.7 1562.7 826.6C1561.1 815.5 1557.1 791 1556.4 778C1555.7 765 1557.8 765.4 1558 740C1558.2 714.6 1558.6 638.2 1558 609C1557.4 579.8 1556 562.6 1553.7 545.5C1551.5 528.4 1547.2 505.1 1543 495C1538.8 484.9 1531.1 479.9 1526 478C1520.9 476.1 1514.7 476.6 1509 482C1503.3 487.4 1493.6 502.9 1488 514C1482.4 525.1 1475.9 541.9 1471.4 556C1466.9 570.1 1461.8 596.9 1458 608C1454.2 619.1 1449.6 624.8 1446 630C1442.4 635.2 1437.3 640.5 1434 643C1430.7 645.5 1427.2 647.8 1424 647C1420.8 646.2 1416 642.2 1413 638C1410 633.8 1407.6 629 1404 619C1400.4 609 1392.8 587.4 1389 571C1385.2 554.6 1381.8 523.9 1378.6 509.6C1375.4 495.4 1371.8 482.3 1368 476C1364.2 469.7 1355.2 468.7 1353 467.4" fill="none" stroke="#000" stroke-width="4" stroke-linecap="round" stroke-linejoin="round"/>
<path d="M1437.9 663.7L1439.9 661.4L1442 658.1L1444.6 654.1L1447.4 649.5L1450.5 644.5L1453.5 639L1456.5 633.3L1459.5 627.4L1462.3 621.5L1464.8 615.8L1467.4 609.5L1470.1 602.2L1472.9 594.2L1475.9 585.7L1478.8 576.9L1481.8 568.3L1484.7 560L1487.4 552.2L1489.9 545.4L1492.2 539.8L1494.4 534.9L1496.6 530.2L1498.9 525.8L1501.1 521.7L1503.3 517.9L1505.4 514.4L1507.5 511.2L1509.4 508.5L1511.3 506.2L1512.9 504.4L1514.5 503L1516.1 501.8L1517.6 501L1519.1 500.4L1520.6 500L1521.9 500L1523.2 500.2L1524.3 500.6L1525.4 501.3L1526.5 502.3L1527.6 503.8L1528.7 505.8L1529.9 508.2L1531.1 511.1L1532.3 514.4L1533.4 518L1534.5 521.9L1535.4 526.1L1536.3 530.6L1537 535.3L1537.7 540.6L1538.2 547.1L1538.8 554.3L1539.3 562.1L1539.7 570.2L1540 578.6L1540.4 586.8L1540.6 594.8L1540.8 602.3L1541 609L1541.1 615.8L1541.1 623.1L1541 630.9L1540.9 638.8L1541 646.6L1541 654.1L1541.1 661.1L1541.1 667.2L1541.3 672.2L1541.8 676L1542.2 676L1542.9 672.3L1543.3 667.2L1543.7 661.1L1544.1 654.2L1544.5 646.7L1544.8 638.9L1545 630.9L1545.1 623.1L1545.1 615.7L1545 609L1544.8 602.2L1544.6 594.7L1544.4 586.7L1544 578.4L1543.7 570L1543.2 561.8L1542.8 554L1542.2 546.7L1541.6 540.2L1541 534.7L1540.2 529.9L1539.3 525.3L1538.4 520.9L1537.3 516.9L1536.1 513.1L1534.9 509.7L1533.6 506.6L1532.3 503.9L1530.9 501.6L1529.5 499.7L1527.9 498.2L1526.1 497L1524.2 496.3L1522.1 496L1520.1 496.1L1518 496.5L1515.9 497.3L1513.9 498.5L1512 499.9L1510.1 501.6L1508.2 503.6L1506.2 506.1L1504.2 509L1502 512.2L1499.8 515.8L1497.6 519.7L1495.3 524L1493.1 528.5L1490.8 533.2L1488.6 538.2L1486.2 544L1483.6 550.9L1480.9 558.6L1478 567L1475 575.6L1472.1 584.4L1469.1 592.9L1466.3 600.8L1463.6 608.1L1461.2 614.2L1458.7 619.9L1455.9 625.7L1453 631.4L1450 637.1L1447.1 642.7L1444.5 647.9L1442.1 652.7L1440 657L1438.4 660.6L1437.5 663.5Z" fill="#000"/>
<path d="M1307.4 771.7C1312.7 773.6 1331.3 781.9 1343 784.4C1354.7 786.9 1368.1 789 1385.5 788.6C1402.9 788.2 1438.7 782.5 1459.3 782C1479.9 781.5 1508.4 785.7 1522.6 785.4C1536.8 785.1 1549.3 780.8 1554 780" fill="none" stroke="#000" stroke-width="3.4" stroke-linecap="round" stroke-linejoin="round"/>
<path d="M1304.7 889.8L1305.4 891.9L1306.7 894.5L1308.4 897.7L1310.3 901.2L1312.5 904.9L1314.9 908.7L1317.3 912.5L1319.7 916L1321.9 919.3L1324 922.1L1325.9 924.6L1328 927.3L1330.1 930L1332.3 932.8L1334.6 935.4L1336.8 938L1339.1 940.4L1341.3 942.7L1343.4 944.7L1345.5 946.4L1347.5 947.9L1349.6 949.3L1351.7 950.6L1354 951.8L1356.2 952.8L1358.5 953.8L1360.8 954.5L1363.2 955.1L1365.5 955.6L1367.9 955.8L1370.4 955.8L1373 955.7L1375.8 955.4L1378.6 955L1381.6 954.4L1384.6 953.6L1387.7 952.8L1390.7 951.8L1393.7 950.7L1396.7 949.4L1399.9 948L1403.4 946.1L1407.2 944L1411.1 941.6L1415.1 939.1L1419.1 936.7L1422.9 934.2L1426.5 931.9L1429.7 929.9L1432.6 928.1L1435.1 926.5L1437.6 924.8L1440 923.1L1442.3 921.4L1444.5 919.8L1446.5 918.3L1448.4 917L1450.2 916L1451.8 915.2L1453.2 914.7L1454.5 914.5L1455.7 914.5L1456.9 914.6L1458 914.9L1459.2 915.3L1460.4 915.9L1461.7 916.7L1463 917.5L1464.5 918.5L1466 919.5L1467.7 920.7L1469.8 922.4L1472.2 924.3L1474.7 926.4L1477.3 928.6L1479.7 930.9L1482 933L1484 934.9L1485.6 936.5L1486.6 937.6L1487 938.2L1487 938.3L1487.1 938.1L1487.2 938.1L1487.1 938.3L1486.8 938.7L1486.3 939.1L1485.8 939.5L1485.3 939.9L1485.3 940.5L1485.5 940.9L1485.9 941.1L1486.4 941.2L1487 941.2L1487.8 941.2L1488.7 940.9L1489.6 940.4L1490.4 939.5L1490.6 938L1490.2 936.6L1489.4 935.4L1488.2 934L1486.5 932.3L1484.5 930.4L1482.1 928.2L1479.6 925.9L1477.1 923.7L1474.5 921.5L1472.1 919.5L1469.9 917.8L1468 916.5L1466.5 915.5L1465 914.5L1463.5 913.6L1462.1 912.8L1460.6 912L1459.1 911.5L1457.5 911.1L1455.9 910.9L1454.2 910.9L1452.4 911.3L1450.5 911.9L1448.5 912.8L1446.5 914L1444.5 915.4L1442.4 916.9L1440.1 918.5L1437.9 920.1L1435.5 921.8L1433.1 923.5L1430.6 925.1L1427.8 926.8L1424.6 928.9L1421 931.2L1417.2 933.6L1413.2 936.1L1409.3 938.5L1405.4 940.8L1401.7 942.9L1398.3 944.7L1395.3 946.2L1392.4 947.3L1389.6 948.4L1386.6 949.3L1383.7 950.1L1380.8 950.8L1378 951.4L1375.3 951.8L1372.7 952.1L1370.3 952.2L1368.1 952.2L1366 952L1363.9 951.6L1361.8 951.1L1359.7 950.4L1357.6 949.5L1355.6 948.6L1353.5 947.5L1351.5 946.3L1349.6 945L1347.7 943.6L1345.8 942L1343.8 940.1L1341.7 938L1339.5 935.6L1337.3 933.1L1335.1 930.5L1332.9 927.8L1330.8 925.1L1328.8 922.5L1326.8 919.9L1324.9 917.2L1322.7 914L1320.3 910.5L1317.9 906.8L1315.4 903.1L1312.9 899.5L1310.6 896.3L1308.5 893.4L1306.7 891.1L1305.1 889.6Z" fill="#000"/>
<path d="M1439.1 933.8L1439.9 933.6L1441.1 933.2L1442.4 932.9L1443.8 932.5L1445.4 932L1447 931.7L1448.6 931.4L1450.1 931.2L1451.4 931.1L1452.5 931.2L1453.6 931.4L1454.9 931.8L1456.2 932.4L1457.6 933L1459.1 933.8L1460.5 934.6L1461.9 935.4L1463.3 936.3L1464.7 937.2L1466 938L1467.2 938.9L1468.5 939.9L1469.9 941.1L1471.3 942.4L1472.8 943.7L1474.3 945.1L1475.8 946.3L1477.3 947.5L1478.7 948.6L1480.2 949.4L1481.6 950.1L1483 950.7L1484.5 951.2L1486 951.7L1487.6 952.1L1489.2 952.4L1490.7 952.6L1492.3 952.6L1493.8 952.6L1495.3 952.4L1496.8 952L1498.3 951.6L1499.8 951L1501.3 950.3L1502.9 949.5L1504.5 948.5L1506.1 947.4L1507.6 946.2L1509.2 944.8L1510.8 943.3L1512.4 941.5L1514.3 939.3L1516.3 936.9L1518.3 934.3L1520.4 931.5L1522.5 928.6L1524.5 925.7L1526.4 922.8L1528.1 920.1L1529.6 917.5L1530.9 914.9L1532.3 912.1L1533.5 909.3L1534.8 906.3L1536 903.3L1537.1 900.2L1538.1 897.2L1539 894.2L1539.8 891.4L1540.5 888.7L1541.1 885.9L1541.7 882.8L1542.2 879.5L1542.6 876.1L1543 872.7L1543.3 869.5L1543.5 866.5L1543.7 863.8L1543.8 861.7L1543.7 860L1543.3 860L1542.7 861.5L1542.3 863.7L1541.8 866.3L1541.3 869.2L1540.8 872.4L1540.2 875.7L1539.6 879L1538.9 882.2L1538.2 885.2L1537.5 887.9L1536.7 890.5L1535.8 893.2L1534.8 896.1L1533.7 899L1532.6 902L1531.4 904.9L1530.2 907.8L1529 910.6L1527.7 913.3L1526.4 915.7L1525 918.2L1523.3 920.9L1521.5 923.7L1519.5 926.5L1517.5 929.3L1515.4 932.1L1513.4 934.7L1511.5 937L1509.8 939.1L1508.2 940.7L1506.8 942.1L1505.4 943.4L1503.9 944.5L1502.5 945.5L1501.1 946.3L1499.7 947.1L1498.4 947.7L1497.1 948.2L1495.8 948.6L1494.7 948.8L1493.5 949L1492.3 949L1491 949L1489.7 948.8L1488.4 948.6L1487 948.2L1485.6 947.8L1484.3 947.3L1483 946.8L1481.8 946.2L1480.7 945.5L1479.4 944.6L1478.1 943.6L1476.7 942.4L1475.2 941.1L1473.8 939.7L1472.3 938.4L1470.8 937.2L1469.4 936L1468 935L1466.7 934.1L1465.3 933.2L1463.8 932.3L1462.3 931.4L1460.8 930.6L1459.2 929.8L1457.7 929.1L1456.1 928.4L1454.6 928L1453.1 927.6L1451.4 927.5L1449.7 927.6L1448 927.8L1446.2 928.2L1444.5 928.6L1442.9 929L1441.4 929.4L1440.1 929.8L1439 930.1L1438.3 930.2Z" fill="#000"/><circle cx="1438.7" cy="932" r="1.8" fill="#000"/>
<path d="M1813.7 562C1821.9 561.5 1832.4 564.5 1839.9 566.3C1847.4 568.1 1856.9 571.9 1863.8 574C1870.7 576.1 1879.1 579 1885.6 580.5C1892.1 582 1901.8 582.5 1907.4 583.8C1913 585.1 1917.2 584.6 1922.7 589C1928.2 593.4 1938.2 604.1 1944.4 613C1950.6 621.9 1958.8 636.5 1964 648C1969.2 659.5 1976.2 678.1 1979.3 689.5C1982.4 700.9 1984.5 713.2 1984.8 724.3C1985.1 735.4 1984.6 752.7 1981.5 763.5C1978.4 774.3 1970.5 787.5 1964 796C1957.5 804.5 1945.2 815 1938 820C1930.8 825 1921.9 827.4 1916 829C1910.1 830.6 1902 829.4 1898.7 831C1895.4 832.6 1900.9 836.8 1894.3 839.8C1887.7 842.8 1864.2 849.4 1855 850.7C1845.8 852 1841.1 850.5 1833.3 848.5C1825.5 846.5 1811.6 842.5 1802.8 837.6C1794 832.7 1782 823.8 1774.5 815.9C1767 808 1757.6 795.5 1752.7 785C1747.8 774.5 1745.4 758.4 1741.8 746C1738.2 733.6 1731.2 715.5 1728.7 702.5C1726.2 689.5 1724.1 671.4 1725.4 659C1726.7 646.6 1732.4 630.2 1737.4 619.7C1742.4 609.2 1751.8 596.5 1759 589C1766.2 581.5 1777.2 573.6 1785.4 569.6C1793.6 565.6 1805.5 562.5 1813.7 562Z" fill="#E9E5E2"/>
<g clip-path="url(#ccO)"><g filter="url(#blur10)"><ellipse cx="1814" cy="648" rx="46" ry="58" transform="rotate(0 1814 648)" fill="#FFFFFF"/><ellipse cx="1918" cy="655" rx="34" ry="62" transform="rotate(20 1918 655)" fill="#FFFFFF"/><ellipse cx="1800" cy="768" rx="38" ry="40" transform="rotate(0 1800 768)" fill="#FFFFFF"/><ellipse cx="1862" cy="785" rx="26" ry="34" transform="rotate(0 1862 785)" fill="#FFFFFF"/><ellipse cx="1944" cy="772" rx="20" ry="38" transform="rotate(15 1944 772)" fill="#FFFFFF"/><ellipse cx="1820" cy="590" rx="30" ry="10" transform="rotate(0 1820 590)" fill="#FFFFFF"/></g></g>
<path d="M1813.7 562C1821.9 561.5 1832.4 564.5 1839.9 566.3C1847.4 568.1 1856.9 571.9 1863.8 574C1870.7 576.1 1879.1 579 1885.6 580.5C1892.1 582 1901.8 582.5 1907.4 583.8C1913 585.1 1917.2 584.6 1922.7 589C1928.2 593.4 1938.2 604.1 1944.4 613C1950.6 621.9 1958.8 636.5 1964 648C1969.2 659.5 1976.2 678.1 1979.3 689.5C1982.4 700.9 1984.5 713.2 1984.8 724.3C1985.1 735.4 1984.6 752.7 1981.5 763.5C1978.4 774.3 1970.5 787.5 1964 796C1957.5 804.5 1945.2 815 1938 820C1930.8 825 1921.9 827.4 1916 829C1910.1 830.6 1902 829.4 1898.7 831C1895.4 832.6 1900.9 836.8 1894.3 839.8C1887.7 842.8 1864.2 849.4 1855 850.7C1845.8 852 1841.1 850.5 1833.3 848.5C1825.5 846.5 1811.6 842.5 1802.8 837.6C1794 832.7 1782 823.8 1774.5 815.9C1767 808 1757.6 795.5 1752.7 785C1747.8 774.5 1745.4 758.4 1741.8 746C1738.2 733.6 1731.2 715.5 1728.7 702.5C1726.2 689.5 1724.1 671.4 1725.4 659C1726.7 646.6 1732.4 630.2 1737.4 619.7C1742.4 609.2 1751.8 596.5 1759 589C1766.2 581.5 1777.2 573.6 1785.4 569.6C1793.6 565.6 1805.5 562.5 1813.7 562Z" fill="none" stroke="#000" stroke-width="4.4" stroke-linecap="round" stroke-linejoin="round"/>
<path d="M1774.6 594.9L1776.8 594.3L1779.5 593L1782.8 591.3L1786.5 589.4L1790.4 587.2L1794.3 585L1798.1 582.9L1801.7 581.1L1804.9 579.6L1807.5 578.6L1809.8 578.1L1812 577.7L1814.2 577.6L1816.3 577.6L1818.5 577.8L1820.6 578.1L1822.6 578.5L1824.6 578.9L1826.6 579.4L1828.5 579.9L1830.5 580.5L1832.7 581.4L1835 582.4L1837.5 583.4L1839.9 584.5L1842.3 585.6L1844.6 586.5L1846.6 587.4L1848.2 588L1849.6 588.2L1849.8 587.8L1848.8 586.8L1847.4 585.8L1845.6 584.6L1843.5 583.3L1841.2 581.9L1838.9 580.6L1836.4 579.3L1834 578.2L1831.6 577.3L1829.5 576.7L1827.5 576.1L1825.4 575.6L1823.3 575.2L1821.1 574.7L1818.9 574.4L1816.5 574.2L1814.1 574.2L1811.6 574.3L1809.1 574.7L1806.5 575.4L1803.6 576.5L1800.2 578L1796.5 579.9L1792.6 582L1788.7 584.3L1784.9 586.7L1781.4 589L1778.4 591.1L1776 593L1774.4 594.5Z" fill="#000"/>
<path d="M1862 574.6L1862.5 576.1L1863.3 578L1864.2 580.2L1865.2 582.8L1866.2 585.6L1867.3 588.5L1868.3 591.5L1869.3 594.6L1870 597.5L1870.6 600.3L1871.1 603.3L1871.5 606.8L1871.9 610.5L1872.2 614.5L1872.4 618.6L1872.6 622.7L1872.8 626.7L1872.8 630.4L1872.9 633.9L1872.8 636.9L1872.7 639.7L1872.4 642.4L1872.1 645.1L1871.7 647.7L1871.3 650.3L1870.8 652.9L1870.3 655.4L1869.7 657.9L1869.1 660.4L1868.6 662.8L1867.9 665.4L1867.2 668.1L1866.4 671L1865.5 674L1864.6 677L1863.6 680L1862.6 683L1861.7 685.8L1860.7 688.5L1859.8 690.9L1858.9 693.2L1858 695.4L1857 697.7L1856 699.9L1854.9 702.2L1853.8 704.5L1852.7 706.9L1851.5 709.4L1850.2 712L1849 714.8L1847.5 718.1L1845.8 722L1843.8 726.4L1841.9 731.1L1839.9 735.9L1838 740.6L1836.3 745L1834.8 749L1833.7 752.2L1833.1 754.7L1833.5 754.9L1835 752.8L1836.6 749.8L1838.5 746L1840.6 741.8L1842.8 737.2L1845.1 732.5L1847.3 727.9L1849.2 723.5L1851 719.6L1852.4 716.4L1853.7 713.6L1854.9 711L1856.1 708.5L1857.2 706.1L1858.3 703.8L1859.4 701.5L1860.5 699.2L1861.5 696.9L1862.5 694.6L1863.4 692.3L1864.3 689.8L1865.3 687.1L1866.2 684.2L1867.2 681.2L1868.2 678.1L1869.1 675.1L1870 672.1L1870.8 669.1L1871.6 666.3L1872.2 663.8L1872.8 661.3L1873.4 658.8L1874 656.2L1874.5 653.6L1875 651L1875.5 648.3L1875.9 645.6L1876.2 642.8L1876.5 640L1876.6 637.1L1876.7 633.9L1876.6 630.4L1876.6 626.6L1876.4 622.5L1876.2 618.4L1876 614.2L1875.6 610.2L1875.3 606.4L1874.9 602.8L1874.4 599.7L1873.7 596.6L1872.9 593.5L1872 590.4L1870.9 587.3L1869.8 584.3L1868.7 581.4L1867.7 578.9L1866.8 576.6L1866.1 574.7L1865.6 573.4Z" fill="#000"/><circle cx="1863.8" cy="574" r="1.9" fill="#000"/>
<path d="M1753.6 619.7L1753.4 621.8L1753.5 624.5L1753.6 627.8L1753.9 631.6L1754.2 635.6L1754.6 639.8L1755.1 644L1755.8 648.1L1756.6 651.8L1757.5 655.1L1758.5 658.2L1759.7 661.4L1761.1 664.7L1762.6 668L1764.2 671.3L1765.9 674.6L1767.6 677.7L1769.4 680.7L1771.2 683.5L1773.1 686.1L1775 688.6L1777.3 691.1L1779.7 693.7L1782.3 696.3L1785 698.7L1787.7 701.1L1790.3 703.3L1792.9 705.3L1795.3 707.1L1797.4 708.5L1799.5 709.7L1801.6 710.8L1803.8 711.6L1805.9 712.4L1808 712.9L1810.1 713.4L1812.2 713.7L1814.2 713.9L1816.1 714.1L1818 714.1L1819.9 714L1821.9 713.8L1824 713.4L1826 713L1828.1 712.4L1830.2 711.8L1832.3 711.1L1834.3 710.3L1836.4 709.5L1838.4 708.6L1840.6 707.6L1843.2 706.3L1845.9 704.9L1848.8 703.3L1851.7 701.7L1854.4 700.1L1857 698.6L1859.3 697.2L1861.1 696.1L1862.5 695.4L1860.7 692.2L1859.3 693L1857.5 694.1L1855.2 695.4L1852.6 696.9L1849.9 698.5L1847 700.2L1844.2 701.7L1841.5 703.2L1839.1 704.4L1837 705.4L1835 706.2L1833.1 706.9L1831.1 707.7L1829.1 708.4L1827.1 709L1825.2 709.5L1823.3 709.9L1821.4 710.2L1819.7 710.4L1818 710.5L1816.3 710.5L1814.5 710.3L1812.6 710.1L1810.8 709.8L1808.9 709.4L1806.9 708.9L1805 708.3L1803.1 707.5L1801.2 706.6L1799.4 705.5L1797.3 704.1L1795.1 702.5L1792.6 700.5L1790 698.4L1787.4 696.1L1784.8 693.7L1782.3 691.2L1779.9 688.7L1777.8 686.3L1775.9 683.9L1774.2 681.5L1772.5 678.8L1770.7 675.9L1769.1 672.9L1767.4 669.7L1765.9 666.5L1764.4 663.3L1763.1 660.1L1761.9 657L1760.9 654.1L1760.1 651L1759.3 647.4L1758.6 643.4L1757.8 639.4L1757.1 635.3L1756.5 631.3L1755.8 627.6L1755.3 624.3L1754.7 621.6L1754 619.7Z" fill="#000"/><circle cx="1861.6" cy="693.8" r="1.8" fill="#000"/>
<path d="M1752.8 724.4L1754 724.1L1755.5 723.4L1757.2 722.5L1759.1 721.4L1761.1 720.2L1763.2 719L1765.3 717.7L1767.2 716.4L1769.1 715.3L1770.7 714.3L1772.4 713.4L1774.3 712.5L1776.3 711.5L1778.3 710.5L1780.4 709.6L1782.4 708.7L1784.2 707.7L1785.7 706.7L1786.9 705.8L1787.7 704.9L1787.5 704.5L1786.3 704.5L1784.8 704.8L1783.1 705.3L1781.2 705.9L1779.2 706.8L1777.1 707.8L1775 708.8L1772.9 709.8L1771 710.8L1769.3 711.7L1767.5 712.7L1765.6 713.9L1763.6 715.2L1761.6 716.5L1759.6 718L1757.7 719.5L1756 720.8L1754.5 722.1L1753.3 723.2L1752.6 724.2Z" fill="#000"/>
<path d="M1791.8 711L1791.3 711.8L1791 712.8L1790.8 714.1L1790.5 715.6L1790.3 717.1L1790.2 718.8L1790.2 720.4L1790.1 722L1790.1 723.6L1790 724.9L1790 726.3L1790 727.9L1790 729.6L1790 731.3L1790.1 733L1790.1 734.7L1790.2 736.3L1790.2 737.6L1790.4 738.8L1790.6 739.6L1791 739.6L1791.3 738.8L1791.6 737.7L1791.8 736.3L1792 734.8L1792.2 733.1L1792.4 731.4L1792.5 729.7L1792.7 728L1792.9 726.5L1793 725.1L1793.1 723.7L1793.1 722.2L1793.2 720.5L1793.2 718.9L1793.3 717.2L1793.2 715.6L1793 714.2L1792.8 712.9L1792.6 711.8L1792.2 711Z" fill="#000"/>
<path d="M1860 693L1860.5 693.9L1861.2 695.2L1862.1 696.8L1863.1 698.7L1864.2 700.7L1865.4 702.8L1866.7 704.9L1868.1 706.9L1869.6 708.8L1871.2 710.4L1872.9 711.9L1874.9 713.3L1877.1 714.8L1879.4 716.3L1881.8 717.7L1884.3 719.1L1886.8 720.4L1889.1 721.6L1891.4 722.8L1893.5 723.7L1895.7 724.6L1898 725.4L1900.3 726.1L1902.8 726.8L1905.2 727.4L1907.5 728L1909.7 728.6L1911.8 729.2L1913.7 729.8L1915.3 730.4L1916.7 731.1L1918.2 731.9L1919.6 732.7L1920.9 733.5L1922.3 734.4L1923.5 735.3L1924.8 736.1L1926 737L1927.1 737.8L1928.1 738.6L1929.1 739.5L1930.2 740.5L1931.2 741.6L1932.3 742.8L1933.4 744L1934.5 745.2L1935.4 746.3L1936.3 747.3L1937.1 748L1937.8 748.4L1938.2 748.2L1938 747.3L1937.5 746.4L1936.9 745.3L1936.1 744L1935.3 742.6L1934.3 741.3L1933.4 739.9L1932.4 738.5L1931.3 737.3L1930.3 736.2L1929.3 735.2L1928.2 734.2L1927 733.2L1925.7 732.2L1924.4 731.2L1923 730.3L1921.5 729.4L1920 728.5L1918.4 727.7L1916.7 727L1914.9 726.2L1912.9 725.6L1910.7 725L1908.5 724.4L1906.1 723.8L1903.7 723.1L1901.4 722.5L1899.1 721.8L1897 721.1L1895.1 720.3L1893.1 719.3L1890.8 718.2L1888.5 717.1L1886.1 715.8L1883.7 714.4L1881.4 713L1879.2 711.6L1877.1 710.2L1875.3 708.9L1873.8 707.6L1872.5 706.2L1871.2 704.6L1869.9 702.8L1868.6 700.8L1867.5 698.8L1866.4 696.9L1865.4 695.1L1864.6 693.4L1863.8 692L1863.2 691Z" fill="#000"/><circle cx="1861.6" cy="692" r="1.9" fill="#000"/>
<path d="M1847.3 656.9L1847.4 658.1L1847.9 659.8L1848.4 661.8L1849.1 664L1849.8 666.4L1850.6 668.9L1851.4 671.3L1852.2 673.7L1852.9 675.8L1853.6 677.6L1854.3 679.2L1855.1 681L1855.9 682.8L1856.7 684.6L1857.6 686.3L1858.4 687.9L1859.1 689.4L1859.7 690.7L1860.3 691.8L1860.6 692.6L1863.4 691.4L1863 690.5L1862.4 689.4L1861.8 688.1L1861.1 686.6L1860.3 685L1859.5 683.3L1858.6 681.5L1857.8 679.8L1857.1 678L1856.4 676.4L1855.7 674.7L1854.8 672.7L1853.9 670.4L1852.9 668.1L1851.9 665.7L1850.9 663.4L1850 661.2L1849.1 659.3L1848.4 657.8L1847.7 656.7Z" fill="#000"/><circle cx="1862" cy="692" r="1.5" fill="#000"/>
<path d="M1881.1 663.2L1880.3 664L1879.5 665.3L1878.5 666.8L1877.4 668.6L1876.3 670.5L1875.1 672.4L1873.9 674.4L1872.8 676.2L1871.7 677.8L1870.8 679.2L1869.8 680.4L1868.8 681.8L1867.7 683.2L1866.5 684.6L1865.3 686L1864.2 687.2L1863.2 688.4L1862.2 689.5L1861.4 690.4L1860.9 691L1863.1 693L1863.7 692.3L1864.5 691.5L1865.4 690.4L1866.5 689.2L1867.6 687.9L1868.8 686.5L1870 685.1L1871.2 683.7L1872.3 682.2L1873.2 680.8L1874.1 679.3L1875.1 677.5L1876.1 675.6L1877.1 673.5L1878.1 671.5L1879.1 669.5L1879.9 667.6L1880.7 665.9L1881.2 664.5L1881.5 663.4Z" fill="#000"/><circle cx="1862" cy="692" r="1.5" fill="#000"/>
<path d="M1889 597L1890.2 596.7L1891.8 595.8L1893.7 594.7L1895.7 593.4L1897.9 592L1900 590.6L1902 589.2L1903.6 587.7L1904.8 586.4L1905.3 585L1905.1 584.8L1903.7 584.9L1902 585.6L1900.2 586.7L1898.2 588.2L1896.2 589.8L1894.3 591.4L1892.4 593L1890.8 594.5L1889.5 595.7L1888.8 596.8Z" fill="#000"/>
<path d="M1944.2 657.8L1943.1 660L1942 663.1L1940.9 667L1939.6 671.3L1938.3 675.9L1936.9 680.7L1935.6 685.4L1934.3 689.9L1933 694L1931.7 697.5L1930.4 700.5L1928.8 703.6L1927.1 706.7L1925.2 709.8L1923.2 712.9L1921.3 716L1919.3 719L1917.5 722L1915.7 724.9L1914.2 727.8L1912.8 730.6L1911.3 733.6L1909.8 736.7L1908.3 739.9L1906.9 743.1L1905.5 746.4L1904.2 749.6L1903 752.7L1901.9 755.8L1901.1 758.7L1900.4 761.6L1899.8 764.5L1899.4 767.5L1899 770.6L1898.7 773.7L1898.5 776.8L1898.3 780L1898.1 783.2L1898 786.4L1897.8 789.6L1897.6 793.2L1897.5 797.5L1897.3 802.1L1897.2 807.1L1897.1 812L1897 816.8L1896.9 821.3L1896.8 825.3L1896.8 828.6L1896.7 831L1900.7 831L1900.8 828.7L1900.8 825.4L1900.9 821.4L1901 816.9L1901.1 812.1L1901.2 807.2L1901.3 802.3L1901.5 797.6L1901.6 793.4L1901.8 789.8L1902 786.6L1902.1 783.4L1902.3 780.2L1902.5 777.1L1902.7 774L1903 771L1903.3 768.1L1903.8 765.2L1904.3 762.4L1904.9 759.7L1905.7 757L1906.7 754.1L1907.9 751L1909.1 747.9L1910.5 744.8L1912 741.6L1913.4 738.5L1914.9 735.4L1916.4 732.4L1917.8 729.6L1919.2 726.9L1920.9 724.1L1922.7 721.2L1924.6 718.1L1926.6 715.1L1928.6 711.9L1930.5 708.8L1932.3 705.5L1934 702.2L1935.5 698.9L1936.8 695.3L1938.1 691.1L1939.4 686.5L1940.7 681.7L1941.7 676.8L1942.6 672L1943.5 667.6L1944.1 663.6L1944.6 660.4L1944.6 658Z" fill="#000"/><circle cx="1898.7" cy="831" r="2" fill="#000"/>
<path d="M1968.2 693.8L1967.6 696.1L1967.1 699.4L1966.6 703.3L1966.1 707.8L1965.6 712.6L1965.2 717.5L1964.8 722.4L1964.4 727.1L1963.9 731.3L1963.4 734.9L1962.8 738.4L1962 742L1961 745.8L1960.1 749.7L1959.2 753.5L1958.3 757.1L1957.5 760.5L1956.8 763.4L1956.3 765.9L1956.2 767.8L1956.6 768L1957.5 766.3L1958.4 763.9L1959.5 761.1L1960.6 757.8L1961.9 754.3L1963.1 750.5L1964.1 746.6L1965.1 742.8L1965.9 739L1966.6 735.5L1967.1 731.7L1967.6 727.4L1968 722.7L1968.4 717.7L1968.7 712.8L1968.9 707.9L1968.9 703.5L1969 699.5L1968.9 696.2L1968.6 693.8Z" fill="#000"/>
<path d="M1907.4 797.5L1908.2 798.1L1909.4 798.6L1910.8 799.2L1912.5 799.7L1914.4 800.3L1916.4 800.8L1918.6 801L1920.9 800.9L1923.1 800.6L1925.4 800L1927.8 798.9L1930.5 797.4L1933.5 795.5L1936.7 793.3L1939.7 791L1942.7 788.6L1945.5 786.4L1947.9 784.3L1949.9 782.6L1951.1 781.2L1950.9 780.8L1949.1 781.5L1946.9 782.8L1944.2 784.5L1941.2 786.5L1938 788.5L1934.8 790.6L1931.7 792.6L1928.8 794.4L1926.2 795.9L1924.2 796.8L1922.5 797.3L1920.6 797.5L1918.7 797.6L1916.8 797.5L1914.9 797.4L1913 797.2L1911.3 797L1909.8 796.8L1908.5 796.8L1907.4 797.1Z" fill="#000"/>
<path d="M1779.9 799.7L1781.1 801.1L1783 802.8L1785.3 804.8L1788 807.1L1790.9 809.5L1794 811.9L1797.2 814.1L1800.4 816.2L1803.4 818L1806.3 819.5L1809.1 820.8L1812.1 822L1815.4 823.2L1818.8 824.3L1822.2 825.4L1825.6 826.3L1828.9 827.1L1832 827.7L1835 828.2L1837.6 828.4L1840.1 828.4L1842.5 828.3L1844.8 828.1L1847.2 827.7L1849.5 827.1L1851.7 826.4L1854 825.4L1856.2 824.3L1858.4 823.1L1860.5 821.5L1862.9 819.6L1865.5 817L1868.3 814L1871.1 810.7L1873.9 807.2L1876.5 803.8L1878.9 800.5L1880.9 797.5L1882.6 795.1L1883.6 793.1L1883.2 792.9L1881.5 794.2L1879.4 796.3L1877 799L1874.3 802L1871.5 805.2L1868.5 808.5L1865.7 811.7L1863.1 814.6L1860.6 817.1L1858.5 818.9L1856.5 820.2L1854.5 821.4L1852.6 822.3L1850.5 823.2L1848.5 823.8L1846.5 824.3L1844.4 824.7L1842.2 824.9L1840 825L1837.8 825L1835.4 824.8L1832.6 824.4L1829.6 823.8L1826.4 823L1823.1 822.1L1819.8 821.1L1816.5 820L1813.4 818.9L1810.4 817.7L1807.7 816.5L1805.1 815.1L1802.2 813.3L1799.1 811.3L1795.9 809.2L1792.6 807.1L1789.5 805L1786.7 803.1L1784.1 801.4L1781.9 800.1L1780.1 799.3Z" fill="#000"/>
<line x1="142" y1="711" x2="1906" y2="711" stroke="#111" stroke-width="2" stroke-dasharray="2 1.4"/>
<line x1="209.5" y1="472" x2="319.5" y2="472" stroke="#5B16EC" stroke-width="3.2" stroke-linecap="round" stroke-dasharray="8.2 7" /><circle cx="208" cy="472" r="5.8" fill="#5B16EC"/><g stroke="#5B16EC" stroke-width="3.6" stroke-linecap="round" fill="none"><line x1="323.5" y1="472" x2="323.5" y2="765.4"/><line x1="315.5" y1="472" x2="331.5" y2="472"/><line x1="315.5" y1="765.4" x2="331.5" y2="765.4"/></g>
<g stroke="#38B6FA" stroke-width="3.4" stroke-linecap="round" fill="none"><line x1="322.8" y1="770.7" x2="322.8" y2="959.5"/><line x1="314.8" y1="770.7" x2="330.8" y2="770.7"/><line x1="314.8" y1="959.5" x2="330.8" y2="959.5"/></g>
<g stroke="#FF63C8" stroke-width="3.4" stroke-linecap="round" fill="none"><line x1="87" y1="772.8" x2="281" y2="772.8"/><line x1="87" y1="765.2" x2="87" y2="780.4"/><line x1="281" y1="765.2" x2="281" y2="780.4"/></g>
<g stroke="#0D48AA" stroke-width="3.8" stroke-linecap="round" fill="none"><line x1="64.8" y1="983.8" x2="314.8" y2="983.8"/><line x1="64.8" y1="976.2" x2="64.8" y2="991.4"/><line x1="314.8" y1="976.2" x2="314.8" y2="991.4"/></g>
<line x1="608" y1="461" x2="722.4" y2="461" stroke="#5B16EC" stroke-width="3.2" stroke-linecap="round" stroke-dasharray="8.2 7" /><circle cx="606.5" cy="461" r="5.8" fill="#5B16EC"/><g stroke="#5B16EC" stroke-width="3.6" stroke-linecap="round" fill="none"><line x1="726.4" y1="461" x2="726.4" y2="765.4"/><line x1="718.4" y1="461" x2="734.4" y2="461"/><line x1="718.4" y1="765.4" x2="734.4" y2="765.4"/></g>
<g stroke="#38B6FA" stroke-width="3.4" stroke-linecap="round" fill="none"><line x1="726.4" y1="770.7" x2="726.4" y2="959.5"/><line x1="718.4" y1="770.7" x2="734.4" y2="770.7"/><line x1="718.4" y1="959.5" x2="734.4" y2="959.5"/></g>
<g stroke="#FF63C8" stroke-width="3.4" stroke-linecap="round" fill="none"><line x1="498.5" y1="772.8" x2="692.6" y2="772.8"/><line x1="498.5" y1="765.2" x2="498.5" y2="780.4"/><line x1="692.6" y1="765.2" x2="692.6" y2="780.4"/></g>
<g stroke="#0D48AA" stroke-width="3.8" stroke-linecap="round" fill="none"><line x1="464.8" y1="978.5" x2="715.4" y2="978.5"/><line x1="464.8" y1="970.9" x2="464.8" y2="986.1"/><line x1="715.4" y1="970.9" x2="715.4" y2="986.1"/></g>
<line x1="914.2" y1="475.3" x2="1143" y2="475.3" stroke="#5B16EC" stroke-width="3.2" stroke-linecap="round" stroke-dasharray="8.2 7" /><circle cx="912.7" cy="475.3" r="5.8" fill="#5B16EC"/><g stroke="#5B16EC" stroke-width="3.6" stroke-linecap="round" fill="none"><line x1="1147" y1="475.3" x2="1147" y2="765.4"/><line x1="1139" y1="475.3" x2="1155" y2="475.3"/><line x1="1139" y1="765.4" x2="1155" y2="765.4"/></g>
<g stroke="#38B6FA" stroke-width="3.4" stroke-linecap="round" fill="none"><line x1="1147.5" y1="770.7" x2="1147.5" y2="959.5"/><line x1="1139.5" y1="770.7" x2="1155.5" y2="770.7"/><line x1="1139.5" y1="959.5" x2="1155.5" y2="959.5"/></g>
<g stroke="#FF63C8" stroke-width="3.4" stroke-linecap="round" fill="none"><line x1="867" y1="780" x2="1128.5" y2="780"/><line x1="867" y1="772.4" x2="867" y2="787.6"/><line x1="1128.5" y1="772.4" x2="1128.5" y2="787.6"/></g>
<g stroke="#FF8C47" stroke-width="3.8" stroke-linecap="round" fill="none"><line x1="857.4" y1="978.5" x2="1136" y2="978.5"/><line x1="857.4" y1="970.9" x2="857.4" y2="986.1"/><line x1="1136" y1="970.9" x2="1136" y2="986.1"/></g>
<g stroke="#3FAF27" stroke-width="3.6" stroke-linecap="round" fill="none"><line x1="1043" y1="756.5" x2="1043" y2="778"/><line x1="1034.3" y1="756.5" x2="1051.7" y2="756.5"/><line x1="1034.3" y1="778" x2="1051.7" y2="778"/></g>
<line x1="1354.8" y1="461" x2="1574" y2="461" stroke="#5B16EC" stroke-width="3.2" stroke-linecap="round" stroke-dasharray="8.2 7" /><circle cx="1353.3" cy="461" r="5.8" fill="#5B16EC"/><g stroke="#5B16EC" stroke-width="3.6" stroke-linecap="round" fill="none"><line x1="1578" y1="461" x2="1578" y2="765.4"/><line x1="1570" y1="461" x2="1586" y2="461"/><line x1="1570" y1="765.4" x2="1586" y2="765.4"/></g>
<g stroke="#38B6FA" stroke-width="3.4" stroke-linecap="round" fill="none"><line x1="1577.5" y1="770.7" x2="1577.5" y2="959.5"/><line x1="1569.5" y1="770.7" x2="1585.5" y2="770.7"/><line x1="1569.5" y1="959.5" x2="1585.5" y2="959.5"/></g>
<g stroke="#FF63C8" stroke-width="3.4" stroke-linecap="round" fill="none"><line x1="1307.4" y1="784.4" x2="1553" y2="784.4"/><line x1="1307.4" y1="776.8" x2="1307.4" y2="792"/><line x1="1553" y1="776.8" x2="1553" y2="792"/></g>
<g stroke="#FF8C47" stroke-width="3.8" stroke-linecap="round" fill="none"><line x1="1287.4" y1="978.5" x2="1566" y2="978.5"/><line x1="1287.4" y1="970.9" x2="1287.4" y2="986.1"/><line x1="1566" y1="970.9" x2="1566" y2="986.1"/></g>
<g stroke="#FF8C47" stroke-width="3.8" stroke-linecap="round" fill="none"><line x1="1816.2" y1="555.8" x2="1816.2" y2="848.5"/><line x1="1808.2" y1="555.8" x2="1824.2" y2="555.8"/><line x1="1808.2" y1="848.5" x2="1824.2" y2="848.5"/></g>
<path d="M482.7 138.5L484.1 204.9M482.7 143.1C488.3 132.4 498.2 129.3 505.3 135.5C510.9 141.6 511.6 162.7 511.6 204.9M511.6 147.8C515.2 135.5 525.1 130.9 532.1 135.5C539.2 141.6 540.6 162.7 540.6 206.3M590.4 162.7C586.2 158.5 579.3 157 573.8 161.3C565.5 168.3 561.4 179.6 562.8 190.8C563.5 200.7 568.3 204.9 573.8 203.5C582.1 200.7 587.6 188 590.4 172.6M590.4 159.9L590.4 188C590.4 197.9 591.7 202.1 594.5 206.3M621.4 161.3L656.1 204.9M654.6 162.7L619.9 204.9M681.4 161.3L683.6 204.9M679.9 138.5L682.8 138.5M703.2 132.4L707.5 204.9M725.6 132.4L730 204.9M778.9 162.7C774.8 158.5 767.9 157 762.4 161.3C754 168.3 749.9 179.6 751.3 190.8C752 200.7 756.8 204.9 762.4 203.5C770.6 200.7 776.2 188 778.9 172.6M778.9 159.9L778.9 188C778.9 197.9 780.3 202.1 783.1 206.3M808.4 159.9L809.9 204.9M809.2 176.8C814.5 164.1 826.8 159.9 839.1 162.7M859.9 161.3C859.9 175.4 861.3 183.8 866.8 186.6C873.7 189.4 883.3 183.8 884.7 162.7M884.7 159.9C886.1 183.8 886.1 212.2 884.7 231C883.3 241.2 876.4 244.1 869.6 239.7C866.8 238.2 865.4 235.4 865.4 232.5M973.2 147.8C971.8 137 966.1 130.9 959 132.4C949 133.9 940.4 143.1 941.8 152.4C943.3 161.3 954.7 165.5 963.2 169.7C973.2 175.4 976.1 185.2 973.2 193.7C970.4 203.5 961.8 206.3 953.3 206.3C946.1 206.3 940.4 200.7 941.8 193.7M998.9 185.2L1025.5 185.2C1028.5 169.7 1022.6 159.9 1013.7 159.9C1003.3 159.9 995.9 172.6 995.9 186.6C995.9 199.3 1003.3 206.3 1013.7 206.3C1019.6 206.3 1025.5 202.1 1028.5 199.3M1077.9 172.6C1075 164.1 1070.7 158.5 1064.9 158.5C1054.8 158.5 1047.6 172.6 1047.6 185.2C1047.6 199.3 1054.8 206.3 1063.5 206.3C1070.7 206.3 1076.4 200.7 1079.3 193.7M1127.6 164.1C1123.3 159.9 1117.5 158.5 1113.1 159.9C1105.9 164.1 1101.5 176.8 1101.5 188C1101.5 200.7 1107.3 206.3 1114.6 206.3C1123.3 206.3 1129.1 190.8 1129.1 178.2C1129.1 168.3 1126.2 161.3 1120.4 159.9M1148.9 159.9L1150.4 204.9M1149.7 172.6C1154.9 162.7 1162.5 158.5 1168.5 159.9C1176.1 161.3 1177.6 169.7 1177.6 181L1179.1 204.9M1228.8 162.7C1221.9 158.5 1213.6 159.9 1208.1 166.9C1201.3 175.4 1199.9 188 1202.6 196.5C1205.4 204.9 1212.3 206.3 1217.8 203.5C1224.6 199.3 1228.8 189.4 1230.1 175.4M1228.8 129.3L1231.5 206.3M1286.4 138.5L1287.8 204.9M1286.4 143.1C1292.2 132.4 1302.2 129.3 1309.4 135.5C1315.2 141.6 1315.9 162.7 1315.9 204.9M1315.9 147.8C1319.5 135.5 1329.6 130.9 1336.8 135.5C1344 141.6 1345.4 162.7 1345.4 206.3M1394.2 164.1C1389.8 159.9 1384 158.5 1379.6 159.9C1372.3 164.1 1367.9 176.8 1367.9 188C1367.9 200.7 1373.8 206.3 1381.1 206.3C1389.8 206.3 1395.7 190.8 1395.7 178.2C1395.7 168.3 1392.8 161.3 1386.9 159.9M1415 132.4L1419.4 204.9M1467.8 162.7C1463.6 158.5 1456.4 157 1450.7 161.3C1442.2 168.3 1437.9 179.6 1439.3 190.8C1440 200.7 1445 204.9 1450.7 203.5C1459.3 200.7 1465 188 1467.8 172.6M1467.8 159.9L1467.8 188C1467.8 197.9 1469.2 202.1 1472.1 206.3M1495.3 159.9L1496.9 204.9M1496.1 176.8C1501.9 164.1 1515 159.9 1528.1 162.7" fill="none" stroke="#000" stroke-width="11.8" stroke-linecap="round" stroke-linejoin="round"/>
<path d="M1622.4 76.3C1621.6 73.6 1619.6 72.5 1617.6 72.9C1614 73.6 1611.6 77.8 1611.6 82.8C1611.6 88.7 1614 92.6 1617.6 92.6C1620 92.6 1622 91 1622.8 88.7M1636.7 80.8C1635.5 79.7 1633.9 79.3 1632.7 79.7C1630.8 80.8 1629.6 84.4 1629.6 87.5C1629.6 91 1631.2 92.6 1633.1 92.6C1635.5 92.6 1637.1 88.3 1637.1 84.8C1637.1 82 1636.3 80.1 1634.7 79.7M1643.9 72.9L1645.1 92.2M1659.1 80.8C1657.9 79.7 1656.3 79.3 1655.1 79.7C1653.1 80.8 1651.9 84.4 1651.9 87.5C1651.9 91 1653.5 92.6 1655.5 92.6C1657.9 92.6 1659.5 88.3 1659.5 84.8C1659.5 82 1658.7 80.1 1657.1 79.7M1666.3 79.7L1666.7 92.2M1666.5 84.4C1667.9 80.8 1671.1 79.7 1674.2 80.4M1691 72.9L1691.4 92.2M1700.6 73.3L1691.8 83.2L1701 92.6M1708.6 86.7L1715.7 86.7C1716.5 82.4 1714.9 79.7 1712.5 79.7C1709.8 79.7 1707.8 83.2 1707.8 87.1C1707.8 90.6 1709.8 92.6 1712.5 92.6C1714.1 92.6 1715.7 91.4 1716.5 90.6M1723.3 80.1C1723.3 84 1723.7 86.3 1725.3 87.1C1727.3 87.9 1730.1 86.3 1730.5 80.4M1730.5 79.7C1730.9 86.3 1730.9 94.1 1730.5 99.1C1730.1 101.9 1728.1 102.6 1726.1 101.5C1725.3 101.1 1724.9 100.3 1724.9 99.5" fill="none" stroke="#545454" stroke-width="3.2" stroke-linecap="round" stroke-linejoin="round"/>
<circle cx="1611.1" cy="133.4" r="8.3" fill="#5B16EC"/>
<path d="M1640.2 127.6L1640.6 140.5M1640.4 132.5C1641.7 128.8 1644.8 127.6 1647.9 128.4M1661.5 128.8C1660.3 127.6 1658.8 127.2 1657.6 127.6C1655.7 128.8 1654.5 132.5 1654.5 135.7C1654.5 139.3 1656.1 140.9 1658 140.9C1660.3 140.9 1661.9 136.5 1661.9 132.9C1661.9 130 1661.1 128 1659.6 127.6M1675.4 128.8C1674.3 127.6 1672.7 127.2 1671.6 127.6C1669.6 128.8 1668.5 132.5 1668.5 135.7C1668.5 139.3 1670 140.9 1672 140.9C1674.3 140.9 1675.8 136.5 1675.8 132.9C1675.8 130 1675.1 128 1673.5 127.6M1685.5 121.1L1685.9 140.5M1682.4 127.6L1689 127.6M1705.3 120.7L1706.4 140.5M1714.2 134.9L1721.2 134.9C1721.9 130.5 1720.4 127.6 1718.1 127.6C1715.3 127.6 1713.4 131.3 1713.4 135.3C1713.4 138.9 1715.3 140.9 1718.1 140.9C1719.6 140.9 1721.2 139.7 1721.9 138.9M1728.5 127.6L1728.9 140.5M1728.7 131.3C1730.1 128.4 1732 127.2 1733.6 127.6C1735.5 128 1735.9 130.5 1735.9 133.7L1736.3 140.5M1750.2 128.4C1748.7 127.2 1746.7 127.2 1745.2 128.8C1743.6 130.5 1742.9 133.3 1743.2 136.1C1743.6 138.9 1745.2 140.1 1746.7 139.7C1748.7 138.9 1749.8 136.1 1750.2 131.7M1750.2 127.6L1750.2 145.3C1750.2 148.8 1748.3 150.4 1746.3 150C1744.8 149.6 1744 148.4 1744 147.2M1760.3 121.1L1760.7 140.5M1757.2 127.6L1763.8 127.6M1770.4 120.7L1770.7 140.5M1770.5 131.7C1771.9 128.8 1773.8 127.6 1775.4 128C1777.3 128.4 1777.7 130.9 1777.7 134.1L1778.1 140.5" fill="none" stroke="#5B16EC" stroke-width="3.4" stroke-linecap="round" stroke-linejoin="round"/>
<circle cx="1611.1" cy="177.6" r="8.3" fill="#38B6FA"/>
<path d="M1648.6 175.9C1647.8 173.5 1646.6 171.9 1645 171.9C1642.2 171.9 1640.2 175.9 1640.2 179.5C1640.2 183.5 1642.2 185.5 1644.6 185.5C1646.6 185.5 1648.2 183.9 1649 181.9M1655.9 172.3L1656.3 185.1M1656.1 177.1C1657.5 173.5 1660.7 172.3 1663.9 173.1M1677.9 173.5C1676.7 172.3 1675.1 171.9 1673.9 172.3C1671.9 173.5 1670.7 177.1 1670.7 180.3C1670.7 183.9 1672.3 185.5 1674.3 185.5C1676.7 185.5 1678.3 181.1 1678.3 177.5C1678.3 174.7 1677.5 172.7 1675.9 172.3M1685.2 172.7L1685.6 181.1C1685.8 184.3 1686.8 185.5 1688 184.3C1689.2 182.7 1690 179.1 1690.4 176.3C1690.8 179.1 1691.6 182.7 1692.8 184.3C1694 185.5 1695.2 184.3 1695.2 181.1L1695.6 172.7M1702.4 172.3L1702.8 185.1M1702.6 175.9C1704 173.1 1706 171.9 1707.6 172.3C1709.7 172.7 1710.1 175.1 1710.1 178.3L1710.5 185.1M1727.3 165.4L1728.5 185.1M1736.6 179.5L1743.8 179.5C1744.6 175.1 1743 172.3 1740.6 172.3C1737.8 172.3 1735.8 175.9 1735.8 179.9C1735.8 183.5 1737.8 185.5 1740.6 185.5C1742.2 185.5 1743.8 184.3 1744.6 183.5M1751.4 172.3L1751.8 185.1M1751.6 175.9C1753 173.1 1755 171.9 1756.6 172.3C1758.6 172.7 1759 175.1 1759 178.3L1759.4 185.1M1773.9 173.1C1772.3 171.9 1770.3 171.9 1768.7 173.5C1767.1 175.1 1766.3 177.9 1766.7 180.7C1767.1 183.5 1768.7 184.7 1770.3 184.3C1772.3 183.5 1773.5 180.7 1773.9 176.3M1773.9 172.3L1773.9 189.8C1773.9 193.4 1771.9 195 1769.9 194.6C1768.3 194.2 1767.5 193 1767.5 191.8M1784.3 165.8L1784.7 185.1M1781.1 172.3L1787.9 172.3M1794.8 165.4L1795.2 185.1M1795 176.3C1796.4 173.5 1798.4 172.3 1800 172.7C1802 173.1 1802.4 175.5 1802.4 178.7L1802.8 185.1" fill="none" stroke="#38B6FA" stroke-width="3.4" stroke-linecap="round" stroke-linejoin="round"/>
<circle cx="1611.1" cy="222.3" r="8.3" fill="#FF63C8"/>
<path d="M1640.2 210.2L1641.3 229.7M1649 224.2L1655.9 224.2C1656.6 219.8 1655.1 217 1652.8 217C1650.1 217 1648.2 220.6 1648.2 224.6C1648.2 228.1 1650.1 230.1 1652.8 230.1C1654.3 230.1 1655.9 228.9 1656.6 228.1M1663.1 217L1663.5 229.7M1663.3 220.6C1664.7 217.8 1666.6 216.6 1668.1 217C1670 217.4 1670.4 219.8 1670.4 223L1670.8 229.7M1684.6 217.8C1683 216.6 1681.1 216.6 1679.6 218.2C1678.1 219.8 1677.3 222.6 1677.7 225.3C1678.1 228.1 1679.6 229.3 1681.1 228.9C1683 228.1 1684.2 225.3 1684.6 221M1684.6 217L1684.6 234.4C1684.6 237.9 1682.6 239.5 1680.7 239.1C1679.2 238.7 1678.4 237.5 1678.4 236.3M1694.5 210.6L1694.9 229.7M1691.4 217L1697.9 217M1704.4 210.2L1704.8 229.7M1704.6 221C1706 218.2 1707.9 217 1709.4 217.4C1711.3 217.8 1711.7 220.2 1711.7 223.4L1712.1 229.7M1736.2 217.8C1735 216.6 1733.1 216.3 1731.6 217.4C1729.3 219.4 1728.1 222.6 1728.5 225.7C1728.7 228.5 1730.1 229.7 1731.6 229.3C1733.9 228.5 1735.4 224.9 1736.2 220.6M1736.2 217L1736.2 224.9C1736.2 227.7 1736.6 228.9 1737.3 230.1M1746.5 210.6L1746.9 229.7M1743.4 217L1749.9 217M1774 220.6C1773.3 218.2 1772.1 216.6 1770.6 216.6C1767.9 216.6 1766 220.6 1766 224.2C1766 228.1 1767.9 230.1 1770.2 230.1C1772.1 230.1 1773.7 228.5 1774.4 226.5M1782.1 224.2L1788.9 224.2C1789.7 219.8 1788.2 217 1785.9 217C1783.2 217 1781.3 220.6 1781.3 224.6C1781.3 228.1 1783.2 230.1 1785.9 230.1C1787.4 230.1 1788.9 228.9 1789.7 228.1M1796.2 217L1796.6 229.7M1796.4 221.8C1797.7 218.2 1800.8 217 1803.9 217.8M1810.4 217.4L1814.2 229.7L1818.4 217M1825.3 217.4L1825.8 229.7M1824.9 211.7L1825.7 211.7M1840.4 220.6C1839.6 218.2 1838.5 216.6 1836.9 216.6C1834.3 216.6 1832.3 220.6 1832.3 224.2C1832.3 228.1 1834.3 230.1 1836.6 230.1C1838.5 230.1 1840 228.5 1840.8 226.5M1855.3 217.8C1854.1 216.6 1852.2 216.3 1850.7 217.4C1848.4 219.4 1847.3 222.6 1847.6 225.7C1847.8 228.5 1849.2 229.7 1850.7 229.3C1853 228.5 1854.5 224.9 1855.3 220.6M1855.3 217L1855.3 224.9C1855.3 227.7 1855.7 228.9 1856.4 230.1M1862.6 210.2L1863.7 229.7M1887.8 220.6C1887 218.2 1885.9 216.6 1884.4 216.6C1881.7 216.6 1879.8 220.6 1879.8 224.2C1879.8 228.1 1881.7 230.1 1884 230.1C1885.9 230.1 1887.4 228.5 1888.2 226.5M1894.7 217.4L1894.7 224.6C1894.7 228.1 1896.2 230.1 1898.1 230.1C1900.4 230.1 1901.9 226.9 1901.9 221.8M1901.9 217.4L1902.3 229.7M1908.8 217L1909.2 229.7M1909 221.8C1910.4 218.2 1913.4 217 1916.5 217.8M1923 217.4L1926.8 229.7L1931 217M1938.7 224.2L1945.5 224.2C1946.3 219.8 1944.8 217 1942.5 217C1939.8 217 1937.9 220.6 1937.9 224.6C1937.9 228.1 1939.8 230.1 1942.5 230.1C1944 230.1 1945.5 228.9 1946.3 228.1" fill="none" stroke="#FF63C8" stroke-width="3.4" stroke-linecap="round" stroke-linejoin="round"/>
<circle cx="1611.1" cy="267.9" r="8.3" fill="#3FAF27"/>
<path d="M1648.2 265C1647.5 262.6 1646.3 261.1 1644.8 261.1C1642.1 261.1 1640.2 265 1640.2 268.5C1640.2 272.4 1642.1 274.4 1644.4 274.4C1646.3 274.4 1647.9 272.8 1648.6 270.9M1655.1 261.9L1655.1 268.9C1655.1 272.4 1656.7 274.4 1658.6 274.4C1660.9 274.4 1662.4 271.3 1662.4 266.2M1662.4 261.9L1662.8 274M1669.3 261.5L1669.7 274M1669.5 266.2C1670.8 262.6 1673.9 261.5 1677 262.2M1683.5 261.9L1687.3 274L1691.5 261.5M1706.1 262.2C1704.9 261.1 1703 260.7 1701.5 261.9C1699.2 263.8 1698 266.9 1698.4 270.1C1698.6 272.8 1699.9 274 1701.5 273.6C1703.8 272.8 1705.3 269.3 1706.1 265M1706.1 261.5L1706.1 269.3C1706.1 272 1706.4 273.2 1707.2 274.4M1716.4 255.1L1716.8 274M1713.3 261.5L1719.9 261.5M1726.4 261.9L1726.4 268.9C1726.4 272.4 1727.9 274.4 1729.8 274.4C1732.1 274.4 1733.6 271.3 1733.6 266.2M1733.6 261.9L1734 274M1740.5 261.5L1740.9 274M1740.7 266.2C1742.1 262.6 1745.1 261.5 1748.2 262.2M1755.8 268.5L1762.7 268.5C1763.5 264.2 1762 261.5 1759.7 261.5C1757 261.5 1755.1 265 1755.1 268.9C1755.1 272.4 1757 274.4 1759.7 274.4C1761.2 274.4 1762.7 273.2 1763.5 272.4M1786.5 262.6C1785.3 261.5 1783.8 261.1 1782.7 261.5C1780.7 262.6 1779.6 266.2 1779.6 269.3C1779.6 272.8 1781.1 274.4 1783 274.4C1785.3 274.4 1786.9 270.1 1786.9 266.6C1786.9 263.8 1786.1 261.9 1784.6 261.5M1800.3 256.2C1799.9 254.3 1798 254 1796.8 254.7C1795.3 255.8 1795.3 259.2 1795.3 264.2L1795.7 274M1792.6 262.2L1799.1 262.2M1824 265C1823.2 262.6 1822.1 261.1 1820.6 261.1C1817.9 261.1 1816 265 1816 268.5C1816 272.4 1817.9 274.4 1820.2 274.4C1822.1 274.4 1823.6 272.8 1824.4 270.9M1832.1 268.5L1838.9 268.5C1839.7 264.2 1838.2 261.5 1835.9 261.5C1833.2 261.5 1831.3 265 1831.3 268.9C1831.3 272.4 1833.2 274.4 1835.9 274.4C1837.4 274.4 1838.9 273.2 1839.7 272.4M1846.2 261.5L1846.6 274M1846.4 266.2C1847.8 262.6 1850.8 261.5 1853.9 262.2M1860.4 261.9L1864.2 274L1868.4 261.5M1875.3 261.9L1875.9 274M1874.9 256.2L1875.7 256.2M1890.5 265C1889.7 262.6 1888.5 261.1 1887 261.1C1884.3 261.1 1882.4 265 1882.4 268.5C1882.4 272.4 1884.3 274.4 1886.6 274.4C1888.5 274.4 1890.1 272.8 1890.8 270.9M1905.4 262.2C1904.2 261.1 1902.3 260.7 1900.8 261.9C1898.5 263.8 1897.3 266.9 1897.7 270.1C1897.9 272.8 1899.3 274 1900.8 273.6C1903.1 272.8 1904.6 269.3 1905.4 265M1905.4 261.5L1905.4 269.3C1905.4 272 1905.8 273.2 1906.5 274.4M1912.7 254.7L1913.8 274M1929.9 254.7L1931 274M1937.9 261.9L1938.5 274M1937.6 256.2L1938.3 256.2M1945 261.5L1945.4 274M1945.2 265C1946.6 262.2 1948.5 261.1 1950 261.5C1951.9 261.9 1952.3 264.2 1952.3 267.3L1952.7 274M1960.3 268.5L1967.2 268.5C1968 264.2 1966.5 261.5 1964.2 261.5C1961.5 261.5 1959.6 265 1959.6 268.9C1959.6 272.4 1961.5 274.4 1964.2 274.4C1965.7 274.4 1967.2 273.2 1968 272.4" fill="none" stroke="#3FAF27" stroke-width="3.4" stroke-linecap="round" stroke-linejoin="round"/>
<circle cx="1611.1" cy="313" r="8.3" fill="#FF8C47"/>
<path d="M1640.2 301.1L1640.6 320.3M1640.2 301.1C1645.8 299.9 1649.4 301.8 1649 304.9C1648.6 308 1645.4 309.6 1641 309.6C1647 309.2 1650.1 311.5 1649.7 315.5C1649.4 319.1 1645.8 320.7 1640.6 320.3M1662.5 300.7L1656.5 321.5M1669.2 300.7L1669.6 320.3L1678 320.3M1694.3 300.7L1695.5 320.3M1703.5 314.7L1710.6 314.7C1711.4 310.4 1709.8 307.6 1707.4 307.6C1704.7 307.6 1702.7 311.1 1702.7 315.1C1702.7 318.7 1704.7 320.7 1707.4 320.7C1709 320.7 1710.6 319.5 1711.4 318.7M1718.2 307.6L1718.6 320.3M1718.4 311.1C1719.8 308.4 1721.8 307.2 1723.3 307.6C1725.3 308 1725.7 310.4 1725.7 313.5L1726.1 320.3M1740.5 308.4C1738.9 307.2 1736.9 307.2 1735.3 308.8C1733.7 310.4 1732.9 313.1 1733.3 315.9C1733.7 318.7 1735.3 319.9 1736.9 319.5C1738.9 318.7 1740.1 315.9 1740.5 311.5M1740.5 307.6L1740.5 325C1740.5 328.5 1738.5 330.1 1736.5 329.7C1734.9 329.3 1734.1 328.1 1734.1 327M1750.8 301.1L1751.2 320.3M1747.6 307.6L1754.4 307.6M1761.1 300.7L1761.5 320.3M1761.3 311.5C1762.7 308.8 1764.7 307.6 1766.3 308C1768.3 308.4 1768.7 310.7 1768.7 313.9L1769.1 320.3" fill="none" stroke="#FF8C47" stroke-width="3.4" stroke-linecap="round" stroke-linejoin="round"/>
<circle cx="1611.1" cy="358.5" r="8.3" fill="#0D48AA"/>
<path d="M1640.2 349.2L1640.6 367.3M1640.2 350.4C1641.8 347.7 1644.5 346.9 1646.4 348.5C1648 350 1648.2 355.4 1648.2 367.3M1648.2 351.5C1649.2 348.5 1651.9 347.3 1653.8 348.5C1655.8 350 1656.2 355.4 1656.2 367.7M1668.6 347.7L1662.8 368.5M1675.2 348.1L1675.6 367.3M1675.2 348.1C1682.2 347.7 1685.8 352.3 1685.8 357.7C1685.8 363.7 1682.6 367.7 1675.6 367.3M1702.1 347.7L1703.3 367.3M1711.1 361.7L1718.1 361.7C1718.8 357.4 1717.3 354.6 1715 354.6C1712.2 354.6 1710.3 358.1 1710.3 362.1C1710.3 365.7 1712.2 367.7 1715 367.7C1716.5 367.7 1718.1 366.5 1718.8 365.7M1725.5 354.6L1725.9 367.3M1725.7 358.1C1727 355.4 1729 354.2 1730.5 354.6C1732.5 355 1732.9 357.4 1732.9 360.5L1733.3 367.3M1747.3 355.4C1745.7 354.2 1743.8 354.2 1742.2 355.8C1740.6 357.4 1739.9 360.1 1740.3 362.9C1740.6 365.7 1742.2 366.9 1743.8 366.5C1745.7 365.7 1746.9 362.9 1747.3 358.5M1747.3 354.6L1747.3 372C1747.3 375.5 1745.3 377.1 1743.4 376.7C1741.8 376.3 1741 375.1 1741 374M1757.4 348.1L1757.8 367.3M1754.3 354.6L1760.9 354.6M1767.5 347.7L1767.9 367.3M1767.7 358.5C1769.1 355.8 1771 354.6 1772.6 355C1774.5 355.4 1774.9 357.7 1774.9 360.9L1775.3 367.3" fill="none" stroke="#0D48AA" stroke-width="3.4" stroke-linecap="round" stroke-linejoin="round"/>
<path d="M123 1086.9L123.6 1120.3M123 1086.9C131.6 1085.1 137.2 1088.2 136.5 1093.1C135.9 1098.3 131 1101.1 124.2 1101.1C133.5 1100.4 138.4 1104.7 137.8 1111.8C137.2 1118.2 131.6 1121 123.6 1120.3M148.2 1098.3L148.2 1111.1C148.2 1117.5 150.7 1121 153.8 1121C157.5 1121 159.9 1115.3 159.9 1106.1M159.9 1098.3L160.6 1120.3M183.9 1103.9C182.7 1099.7 180.9 1096.8 178.4 1096.8C174.1 1096.8 171 1103.9 171 1110.3C171 1117.5 174.1 1121 177.8 1121C180.9 1121 183.3 1118.2 184.6 1114.6M207.9 1103.9C206.7 1099.7 204.9 1096.8 202.4 1096.8C198.1 1096.8 195 1103.9 195 1110.3C195 1117.5 198.1 1121 201.8 1121C204.9 1121 207.3 1118.2 208.6 1114.6M232 1099C230.1 1096.8 227 1096.2 224.6 1098.3C220.9 1101.8 219 1107.5 219.6 1113.2C220 1118.2 222.1 1120.3 224.6 1119.6C228.3 1118.2 230.7 1111.8 232 1103.9M232 1097.6L232 1111.8C232 1116.7 232.6 1118.9 233.8 1121M243.7 1086.3L245.5 1120.3" fill="none" stroke="#545454" stroke-width="5" stroke-linecap="round" stroke-linejoin="round"/>
<path d="M520 1086.3L520.6 1120.3L534 1120.3M544.7 1098.3L545.7 1120.3M544.1 1088.8L545.4 1088.8M556.5 1097.6L557.1 1120.3M556.8 1103.9C559 1099 562.2 1096.8 564.7 1097.6C567.9 1098.3 568.5 1102.5 568.5 1108.2L569.2 1120.3M592 1099C589.5 1096.8 586.3 1096.8 583.8 1099.7C581.2 1102.5 580 1107.5 580.6 1112.5C581.2 1117.5 583.8 1119.6 586.3 1118.9C589.5 1117.5 591.4 1112.5 592 1104.7M592 1097.6L592 1128.5C592 1134.6 588.8 1137.3 585.7 1136.6C583.1 1135.9 581.9 1133.9 581.9 1131.9M603.4 1098.3L603.4 1111.1C603.4 1117.5 606 1121 609.1 1121C613 1121 615.5 1115.3 615.5 1106.1M615.5 1098.3L616.1 1120.3M640.2 1099C638.3 1096.8 635.2 1096.2 632.6 1098.3C628.8 1101.8 626.9 1107.5 627.6 1113.2C627.9 1118.2 630.1 1120.3 632.6 1119.6C636.4 1118.2 639 1111.8 640.2 1103.9M640.2 1097.6L640.2 1111.8C640.2 1116.7 640.9 1118.9 642.1 1121M652.3 1086.3L654.2 1120.3" fill="none" stroke="#545454" stroke-width="5" stroke-linecap="round" stroke-linejoin="round"/>
<path d="M930.3 1088.8L930.9 1120.3M930.3 1090.6C932.7 1086.3 937 1085.1 940.1 1087.5C942.5 1090 942.8 1099 942.8 1120.3M942.8 1092.5C944.4 1087.5 948.7 1085.7 951.7 1087.5C954.8 1090 955.4 1099 955.4 1121M967.6 1110.3L978.6 1110.3C979.9 1102.5 977.4 1097.6 973.7 1097.6C969.5 1097.6 966.4 1103.9 966.4 1111.1C966.4 1117.5 969.5 1121 973.7 1121C976.2 1121 978.6 1118.9 979.9 1117.5M1000.7 1101.1C999.4 1097.6 995.8 1096.2 992.7 1098.3C989.6 1101.1 990.9 1105.4 994.5 1107.5C998.8 1109.6 1001.9 1111.8 1001.3 1116C1000.7 1121 994.5 1121.7 990.3 1118.2M1012.3 1098.3L1013.2 1120.3M1011.7 1088.8L1012.9 1088.8M1036.4 1099C1034.6 1096.8 1031.5 1096.2 1029.1 1098.3C1025.4 1101.8 1023.6 1107.5 1024.2 1113.2C1024.5 1118.2 1026.7 1120.3 1029.1 1119.6C1032.8 1118.2 1035.2 1111.8 1036.4 1103.9M1036.4 1097.6L1036.4 1111.8C1036.4 1116.7 1037.1 1118.9 1038.3 1121M1048.1 1086.3L1049.9 1120.3" fill="none" stroke="#545454" stroke-width="5" stroke-linecap="round" stroke-linejoin="round"/>
<path d="M1372.5 1086.9L1373.1 1120.3M1372.5 1086.9C1384 1086.3 1389.8 1093.7 1389.8 1103.2C1389.8 1113.9 1384.7 1121 1373.1 1120.3M1401.3 1098.3L1402.3 1120.3M1400.7 1088.8L1402 1088.8M1424.1 1101.1C1422.8 1097.6 1419 1096.2 1415.8 1098.3C1412.6 1101.1 1413.8 1105.4 1417.7 1107.5C1422.2 1109.6 1425.4 1111.8 1424.7 1116C1424.1 1121 1417.7 1121.7 1413.2 1118.2M1440.8 1086.9L1441.4 1120.3M1435.6 1097.6L1446.5 1097.6M1470.9 1099C1469 1096.8 1465.8 1096.2 1463.2 1098.3C1459.4 1101.8 1457.4 1107.5 1458.1 1113.2C1458.4 1118.2 1460.6 1120.3 1463.2 1119.6C1467.1 1118.2 1469.6 1111.8 1470.9 1103.9M1470.9 1097.6L1470.9 1111.8C1470.9 1116.7 1471.5 1118.9 1472.8 1121M1483.1 1086.3L1485 1120.3" fill="none" stroke="#545454" stroke-width="5" stroke-linecap="round" stroke-linejoin="round"/>
<path d="M1801 1086.3C1795.5 1086.3 1792.5 1093.7 1792.5 1103.2C1792.5 1114.6 1796.1 1121 1801 1121C1806.4 1121 1809.5 1112.5 1809.5 1102.5C1809.5 1093.1 1806.4 1086.3 1801 1086.3M1832.5 1103.9C1831.3 1099.7 1829.5 1096.8 1827.1 1096.8C1822.8 1096.8 1819.8 1103.9 1819.8 1110.3C1819.8 1117.5 1822.8 1121 1826.4 1121C1829.5 1121 1831.9 1118.2 1833.1 1114.6M1856.2 1103.9C1854.9 1099.7 1853.1 1096.8 1850.7 1096.8C1846.5 1096.8 1843.4 1103.9 1843.4 1110.3C1843.4 1117.5 1846.5 1121 1850.1 1121C1853.1 1121 1855.5 1118.2 1856.8 1114.6M1867.1 1086.3L1868.9 1120.3M1879.2 1098.3L1879.2 1111.1C1879.2 1117.5 1881.6 1121 1884.6 1121C1888.3 1121 1890.7 1115.3 1890.7 1106.1M1890.7 1098.3L1891.3 1120.3M1911.9 1101.1C1910.7 1097.6 1907.1 1096.2 1904 1098.3C1901 1101.1 1902.2 1105.4 1905.9 1107.5C1910.1 1109.6 1913.1 1111.8 1912.5 1116C1911.9 1121 1905.9 1121.7 1901.6 1118.2M1935.6 1099C1933.7 1096.8 1930.7 1096.2 1928.3 1098.3C1924.7 1101.8 1922.8 1107.5 1923.4 1113.2C1923.7 1118.2 1925.9 1120.3 1928.3 1119.6C1931.9 1118.2 1934.4 1111.8 1935.6 1103.9M1935.6 1097.6L1935.6 1111.8C1935.6 1116.7 1936.2 1118.9 1937.4 1121M1947.1 1086.3L1948.9 1120.3" fill="none" stroke="#545454" stroke-width="5" stroke-linecap="round" stroke-linejoin="round"/>
<path d="M337.9 605.1L339.2 630.8M348 611.5C351.1 607.4 355.5 605.1 359.9 605.6C364.9 606.1 366.8 609.2 365.5 612.9C363.6 618.3 356.7 623.2 349.2 629.2L348.6 630.3C353.6 630.8 360.5 630.8 367.4 630.3M375.5 613.4L376.2 630.8M375.8 618.3C377.4 614 379.9 612.9 381.8 613.4C384.3 614 384.9 616.7 384.9 621.6L385.2 630.8M385.2 618.3C386.8 614 389.3 612.9 391.2 613.4C393.7 614 394.9 616.7 394.9 621.6L395.6 630.8M403.7 613.4L404.3 630.8M404 618.3C405.6 614 408.1 612.9 410 613.4C412.5 614 413.1 616.7 413.1 621.6L413.4 630.8M413.4 618.3C415 614 417.5 612.9 419.4 613.4C421.9 614 423.1 616.7 423.1 621.6L423.8 630.8" fill="none" stroke="#5B16EC" stroke-width="3.9" stroke-linecap="round" stroke-linejoin="round"/>
<path d="M144.4 794.4L161.6 793.9C158.3 800 154.4 809.5 151.7 819.8M170.2 801.6L170.9 819.8M170.5 806.7C172.2 802.1 174.8 801 176.8 801.6C179.4 802.1 180.1 805 180.1 810.1L180.4 819.8M180.4 806.7C182.1 802.1 184.7 801 186.7 801.6C189.4 802.1 190.7 805 190.7 810.1L191.3 819.8M199.9 801.6L200.6 819.8M200.2 806.7C201.9 802.1 204.5 801 206.5 801.6C209.2 802.1 209.8 805 209.8 810.1L210.2 819.8M210.2 806.7C211.8 802.1 214.4 801 216.4 801.6C219.1 802.1 220.4 805 220.4 810.1L221 819.8" fill="none" stroke="#FF63C8" stroke-width="3.9" stroke-linecap="round" stroke-linejoin="round"/>
<path d="M333.9 835.8L351.2 835.4C347.9 841 343.9 849.7 341.3 859M359.9 842.4L360.5 859M360.2 847.1C361.9 842.9 364.5 841.9 366.5 842.4C369.2 842.9 369.8 845.5 369.8 850.2L370.2 859M370.2 847.1C371.8 842.9 374.5 841.9 376.5 842.4C379.1 842.9 380.5 845.5 380.5 850.2L381.1 859M389.8 842.4L390.4 859M390.1 847.1C391.8 842.9 394.4 841.9 396.4 842.4C399.1 842.9 399.8 845.5 399.8 850.2L400.1 859M400.1 847.1C401.7 842.9 404.4 841.9 406.4 842.4C409.1 842.9 410.4 845.5 410.4 850.2L411 859" fill="none" stroke="#38B6FA" stroke-width="3.9" stroke-linecap="round" stroke-linejoin="round"/>
<path d="M166 1006.3C164.2 1002.4 158 1001.9 154.9 1004.8C151.8 1007.7 152.4 1013 156.7 1014.1C161.1 1015.3 164.8 1012.4 166 1007.7L166.7 1029M174.7 1010.7L175.3 1029M175 1015.8C176.6 1011.2 179.1 1010.1 180.9 1010.7C183.4 1011.2 184 1014.1 184 1019.3L184.4 1029M184.4 1015.8C185.9 1011.2 188.4 1010.1 190.3 1010.7C192.7 1011.2 194 1014.1 194 1019.3L194.6 1029M202.7 1010.7L203.3 1029M203 1015.8C204.5 1011.2 207 1010.1 208.9 1010.7C211.4 1011.2 212 1014.1 212 1019.3L212.3 1029M212.3 1015.8C213.9 1011.2 216.3 1010.1 218.2 1010.7C220.7 1011.2 221.9 1014.1 221.9 1019.3L222.5 1029" fill="none" stroke="#0D48AA" stroke-width="3.9" stroke-linecap="round" stroke-linejoin="round"/>
<path d="M740.8 605.5L742 630M750.7 608.6C753.2 606 758.9 604.7 762.6 606.8C765.7 608.6 764.5 613.9 757 615.5C764.5 616 767 620.7 765.7 625.4C763.9 630 755.7 631 750.7 628.5M773.9 613.4L774.5 630M774.2 618.1C775.7 613.9 778.2 612.9 780.1 613.4C782.6 613.9 783.2 616.5 783.2 621.2L783.5 630M783.5 618.1C785.1 613.9 787.6 612.9 789.5 613.4C792 613.9 793.2 616.5 793.2 621.2L793.8 630M802 613.4L802.6 630M802.3 618.1C803.8 613.9 806.3 612.9 808.2 613.4C810.7 613.9 811.3 616.5 811.3 621.2L811.6 630M811.6 618.1C813.2 613.9 815.7 612.9 817.6 613.4C820.1 613.9 821.3 616.5 821.3 621.2L822 630" fill="none" stroke="#5B16EC" stroke-width="3.9" stroke-linecap="round" stroke-linejoin="round"/>
<path d="M557.6 794.3L574.2 793.8C571 799.5 567.2 808.2 564.6 817.5M582.6 800.9L583.2 817.5M582.9 805.5C584.5 801.4 587.1 800.3 589 800.9C591.6 801.4 592.2 804 592.2 808.7L592.6 817.5M592.6 805.5C594.2 801.4 596.7 800.3 598.7 800.9C601.2 801.4 602.5 804 602.5 808.7L603.1 817.5M611.5 800.9L612.1 817.5M611.8 805.5C613.4 801.4 616 800.3 617.9 800.9C620.5 801.4 621.1 804 621.1 808.7L621.5 817.5M621.5 805.5C623.1 801.4 625.6 800.3 627.6 800.9C630.1 801.4 631.4 804 631.4 808.7L632.1 817.5" fill="none" stroke="#FF63C8" stroke-width="3.9" stroke-linecap="round" stroke-linejoin="round"/>
<path d="M738.6 835.8L755.8 835.4C752.5 841 748.5 849.7 745.8 859M764.4 842.4L765 859M764.7 847.1C766.4 842.9 769 841.9 771 842.4C773.6 842.9 774.3 845.5 774.3 850.2L774.6 859M774.6 847.1C776.3 842.9 778.9 841.9 780.9 842.4C783.6 842.9 784.9 845.5 784.9 850.2L785.6 859M794.2 842.4L794.8 859M794.5 847.1C796.1 842.9 798.8 841.9 800.8 842.4C803.4 842.9 804.1 845.5 804.1 850.2L804.4 859M804.4 847.1C806.1 842.9 808.7 841.9 810.7 842.4C813.4 842.9 814.7 845.5 814.7 850.2L815.4 859" fill="none" stroke="#38B6FA" stroke-width="3.9" stroke-linecap="round" stroke-linejoin="round"/>
<path d="M567.5 1006.3C565.6 1002.4 559.3 1001.9 556.1 1004.8C553 1007.7 553.6 1013 558 1014.1C562.4 1015.3 566.2 1012.4 567.5 1007.7L568.1 1029M576.4 1010.7L577 1029M576.7 1015.8C578.2 1011.2 580.8 1010.1 582.7 1010.7C585.2 1011.2 585.8 1014.1 585.8 1019.3L586.2 1029M586.2 1015.8C587.7 1011.2 590.3 1010.1 592.2 1010.7C594.7 1011.2 596 1014.1 596 1019.3L596.6 1029M604.8 1010.7L605.4 1029M605.1 1015.8C606.7 1011.2 609.2 1010.1 611.1 1010.7C613.7 1011.2 614.3 1014.1 614.3 1019.3L614.6 1029M614.6 1015.8C616.2 1011.2 618.7 1010.1 620.6 1010.7C623.2 1011.2 624.4 1014.1 624.4 1019.3L625.1 1029" fill="none" stroke="#0D48AA" stroke-width="3.9" stroke-linecap="round" stroke-linejoin="round"/>
<path d="M1160.4 603.3L1161.6 627.8M1170.3 609.4C1173.5 605.5 1177.8 603.3 1182.2 603.8C1187.2 604.2 1189.1 607.2 1187.8 610.7C1185.9 615.8 1179.1 620.5 1171.6 626.2L1171 627.2C1176 627.8 1182.8 627.8 1189.7 627.2M1197.8 611.2L1198.4 627.8M1198.1 615.8C1199.7 611.7 1202.2 610.7 1204 611.2C1206.5 611.7 1207.2 614.3 1207.2 619L1207.5 627.8M1207.5 615.8C1209 611.7 1211.5 610.7 1213.4 611.2C1215.9 611.7 1217.1 614.3 1217.1 619L1217.8 627.8M1225.9 611.2L1226.5 627.8M1226.2 615.8C1227.8 611.7 1230.2 610.7 1232.1 611.2C1234.6 611.7 1235.2 614.3 1235.2 619L1235.6 627.8M1235.6 615.8C1237.1 611.7 1239.6 610.7 1241.5 611.2C1244 611.7 1245.2 614.3 1245.2 619L1245.8 627.8" fill="none" stroke="#5B16EC" stroke-width="3.9" stroke-linecap="round" stroke-linejoin="round"/>
<path d="M967 792.6L968.2 819.3M983.2 792.6C978.8 792.6 976.3 798.3 976.3 805.2C976.3 814.3 979.5 819.9 983.8 819.9C988.2 819.9 990.7 813.1 990.7 805.2C990.7 797.4 987.6 792.6 983.2 792.6M998.9 801.2L999.5 819.3M999.2 806.3C1000.7 801.8 1003.2 800.7 1005.1 801.2C1007.6 801.8 1008.3 804.6 1008.3 809.7L1008.6 819.3M1008.6 806.3C1010.1 801.8 1012.6 800.7 1014.5 801.2C1017 801.8 1018.3 804.6 1018.3 809.7L1018.9 819.3M1027 801.2L1027.7 819.3M1027.3 806.3C1028.9 801.8 1031.4 800.7 1033.3 801.2C1035.8 801.8 1036.4 804.6 1036.4 809.7L1036.7 819.3M1036.7 806.3C1038.3 801.8 1040.8 800.7 1042.7 801.2C1045.2 801.8 1046.4 804.6 1046.4 809.7L1047 819.3" fill="none" stroke="#FF63C8" stroke-width="3.9" stroke-linecap="round" stroke-linejoin="round"/>
<path d="M1160.4 835.8L1177.1 835.4C1173.9 841 1170 849.7 1167.4 859M1185.5 842.4L1186.1 859M1185.8 847.1C1187.4 842.9 1190 841.9 1191.9 842.4C1194.5 842.9 1195.1 845.5 1195.1 850.2L1195.4 859M1195.4 847.1C1197.1 842.9 1199.6 841.9 1201.6 842.4C1204.1 842.9 1205.4 845.5 1205.4 850.2L1206.1 859M1214.4 842.4L1215.1 859M1214.8 847.1C1216.4 842.9 1219 841.9 1220.9 842.4C1223.5 842.9 1224.1 845.5 1224.1 850.2L1224.4 859M1224.4 847.1C1226 842.9 1228.6 841.9 1230.5 842.4C1233.1 842.9 1234.4 845.5 1234.4 850.2L1235 859" fill="none" stroke="#38B6FA" stroke-width="3.9" stroke-linecap="round" stroke-linejoin="round"/>
<path d="M962 1003.6L963.3 1029M971.9 1003.6L973.2 1029M981.8 1011.8L982.5 1029M982.2 1016.7C983.8 1012.3 986.5 1011.3 988.5 1011.8C991.1 1012.3 991.8 1015 991.8 1019.9L992.1 1029M992.1 1016.7C993.8 1012.3 996.4 1011.3 998.4 1011.8C1001 1012.3 1002.4 1015 1002.4 1019.9L1003 1029M1011.6 1011.8L1012.3 1029M1012 1016.7C1013.6 1012.3 1016.3 1011.3 1018.3 1011.8C1020.9 1012.3 1021.6 1015 1021.6 1019.9L1021.9 1029M1021.9 1016.7C1023.6 1012.3 1026.2 1011.3 1028.2 1011.8C1030.9 1012.3 1032.2 1015 1032.2 1019.9L1032.8 1029" fill="none" stroke="#FF8C47" stroke-width="3.9" stroke-linecap="round" stroke-linejoin="round"/>
<path d="M1592.5 605.5L1593.7 630M1602.7 608.6C1605.3 606 1611.1 604.7 1614.9 606.8C1618.1 608.6 1616.8 613.9 1609.1 615.5C1616.8 616 1619.4 620.7 1618.1 625.4C1616.2 630 1607.8 631 1602.7 628.5M1626.5 613.4L1627.1 630M1626.8 618.1C1628.4 613.9 1630.9 612.9 1632.9 613.4C1635.4 613.9 1636.1 616.5 1636.1 621.2L1636.4 630M1636.4 618.1C1638 613.9 1640.6 612.9 1642.5 613.4C1645.1 613.9 1646.3 616.5 1646.3 621.2L1647 630M1655.3 613.4L1656 630M1655.6 618.1C1657.2 613.9 1659.8 612.9 1661.7 613.4C1664.3 613.9 1664.9 616.5 1664.9 621.2L1665.3 630M1665.3 618.1C1666.9 613.9 1669.4 612.9 1671.4 613.4C1673.9 613.9 1675.2 616.5 1675.2 621.2L1675.8 630" fill="none" stroke="#5B16EC" stroke-width="3.9" stroke-linecap="round" stroke-linejoin="round"/>
<path d="M1399 798.9L1400.2 824.6M1415.5 798.9C1411.1 798.9 1408.5 804.4 1408.5 811C1408.5 819.7 1411.7 825.2 1416.2 825.2C1420.6 825.2 1423.2 818.7 1423.2 811C1423.2 803.5 1420 798.9 1415.5 798.9M1431.5 807.2L1432.1 824.6M1431.8 812.1C1433.4 807.8 1435.9 806.7 1437.8 807.2C1440.4 807.8 1441 810.5 1441 815.4L1441.3 824.6M1441.3 812.1C1442.9 807.8 1445.5 806.7 1447.4 807.2C1450 807.8 1451.2 810.5 1451.2 815.4L1451.9 824.6M1460.2 807.2L1460.8 824.6M1460.5 812.1C1462.1 807.8 1464.6 806.7 1466.5 807.2C1469.1 807.8 1469.7 810.5 1469.7 815.4L1470 824.6M1470 812.1C1471.6 807.8 1474.2 806.7 1476.1 807.2C1478.6 807.8 1479.9 810.5 1479.9 815.4L1480.5 824.6" fill="none" stroke="#FF63C8" stroke-width="3.9" stroke-linecap="round" stroke-linejoin="round"/>
<path d="M1590.4 835.8L1607.1 835.4C1603.9 841 1600 849.7 1597.4 859M1615.5 842.4L1616.1 859M1615.8 847.1C1617.4 842.9 1620 841.9 1621.9 842.4C1624.5 842.9 1625.1 845.5 1625.1 850.2L1625.4 859M1625.4 847.1C1627.1 842.9 1629.6 841.9 1631.6 842.4C1634.1 842.9 1635.4 845.5 1635.4 850.2L1636.1 859M1644.4 842.4L1645.1 859M1644.8 847.1C1646.4 842.9 1649 841.9 1650.9 842.4C1653.5 842.9 1654.1 845.5 1654.1 850.2L1654.4 859M1654.4 847.1C1656 842.9 1658.6 841.9 1660.5 842.4C1663.1 842.9 1664.4 845.5 1664.4 850.2L1665 859" fill="none" stroke="#38B6FA" stroke-width="3.9" stroke-linecap="round" stroke-linejoin="round"/>
<path d="M1400 1003.6L1401.2 1029M1409.7 1003.6L1411 1029M1419.4 1011.8L1420.1 1029M1419.8 1016.7C1421.4 1012.3 1424 1011.3 1425.9 1011.8C1428.5 1012.3 1429.2 1015 1429.2 1019.9L1429.5 1029M1429.5 1016.7C1431.1 1012.3 1433.7 1011.3 1435.7 1011.8C1438.3 1012.3 1439.6 1015 1439.6 1019.9L1440.2 1029M1448.7 1011.8L1449.3 1029M1449 1016.7C1450.6 1012.3 1453.2 1011.3 1455.2 1011.8C1457.8 1012.3 1458.4 1015 1458.4 1019.9L1458.7 1029M1458.7 1016.7C1460.4 1012.3 1463 1011.3 1464.9 1011.8C1467.5 1012.3 1468.8 1015 1468.8 1019.9L1469.5 1029" fill="none" stroke="#FF8C47" stroke-width="3.9" stroke-linecap="round" stroke-linejoin="round"/>
<path d="M1783.4 859.3L1784.7 884M1793.1 859.3L1794.4 884M1802.9 867.3L1803.5 884M1803.2 872C1804.8 867.8 1807.5 866.8 1809.4 867.3C1812 867.8 1812.7 870.4 1812.7 875.1L1813 884M1813 872C1814.6 867.8 1817.2 866.8 1819.2 867.3C1821.8 867.8 1823.1 870.4 1823.1 875.1L1823.7 884M1832.2 867.3L1832.9 884M1832.5 872C1834.2 867.8 1836.8 866.8 1838.7 867.3C1841.3 867.8 1842 870.4 1842 875.1L1842.3 884M1842.3 872C1843.9 867.8 1846.5 866.8 1848.5 867.3C1851.1 867.8 1852.4 870.4 1852.4 875.1L1853 884" fill="none" stroke="#FF8C47" stroke-width="3.9" stroke-linecap="round" stroke-linejoin="round"/>
<path d="M1014.1 721.6L1015.2 741.4M1032.6 728L1033.1 741.4M1032.8 731.7C1034.1 728.4 1036.2 727.6 1037.8 728C1039.9 728.4 1040.4 730.5 1040.4 734.2L1040.7 741.4M1040.7 731.7C1042 728.4 1044.1 727.6 1045.7 728C1047.8 728.4 1048.9 730.5 1048.9 734.2L1049.4 741.4M1056.2 728L1056.7 741.4M1056.5 731.7C1057.8 728.4 1059.9 727.6 1061.5 728C1063.6 728.4 1064.1 730.5 1064.1 734.2L1064.4 741.4M1064.4 731.7C1065.7 728.4 1067.8 727.6 1069.4 728C1071.5 728.4 1072.5 730.5 1072.5 734.2L1073 741.4" fill="none" stroke="#3FAF27" stroke-width="3.3" stroke-linecap="round" stroke-linejoin="round"/>
</svg>
</body></html>
